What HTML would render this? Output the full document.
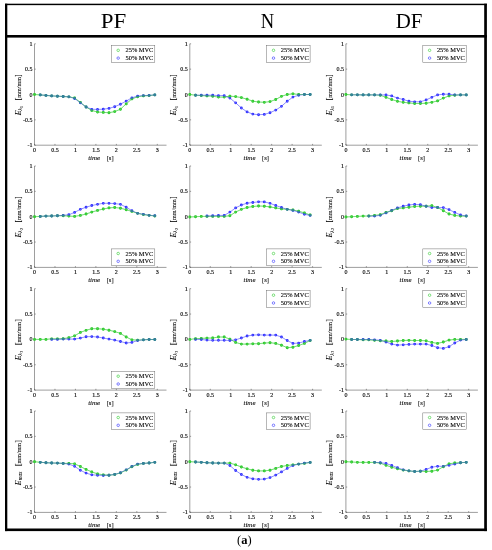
<!DOCTYPE html>
<html><head><meta charset="utf-8"><title>Figure (a)</title>
<style>
html,body{margin:0;padding:0;background:#fff}
svg{display:block}
text{font-family:"Liberation Serif","DejaVu Serif",serif;fill:#000}
.t{font-size:6px}
.l{font-size:6.5px}
.h{font-size:20px;fill:#000}
.ax{stroke:#505050;stroke-width:.56;fill:none}
.g{stroke:#33cc33;fill:none}
.b{stroke:#3333ff;fill:none}
.ln{stroke-width:.55}
.mk{stroke-width:1.05}
.top{opacity:.5}
.t,.l{stroke:#000;stroke-width:.14px}
.lg{font-size:6.8px;stroke-width:.12px}
.y{stroke-width:.04px}
.x{stroke-width:.08px}
</style></head><body>
<svg width="492" height="550" viewBox="0 0 492 550">
<rect width="492" height="550" fill="#fff"/>
<g fill="#000">
<rect x="5.1" y="3.7" width="481.8" height="1.45"/>
<rect x="5" y="3.7" width="2.3" height="527.4"/>
<rect x="484.2" y="3.7" width="2.7" height="527.4"/>
<rect x="5.1" y="528.5" width="481.8" height="2.6"/>
<rect x="5.1" y="35" width="481.8" height="2.6"/>
</g>
<text class="h" x="100.7" y="27.5" textLength="25.5" lengthAdjust="spacingAndGlyphs">PF</text>
<text class="h" x="260.8" y="27.5" textLength="13.4" lengthAdjust="spacingAndGlyphs">N</text>
<text class="h" x="395.8" y="27.5" textLength="26.7" lengthAdjust="spacingAndGlyphs">DF</text>
<g>
<path class="ax" d="M34.5 43.8V145.2H166.5M34.5 145.2v-1.3M54.97 145.2v-1.3M75.43 145.2v-1.3M95.89 145.2v-1.3M116.36 145.2v-1.3M136.82 145.2v-1.3M157.29 145.2v-1.3M34.5 145.2h1.3M34.5 119.85h1.3M34.5 94.5h1.3M34.5 69.15h1.3M34.5 43.8h1.3"/>
<text class="t" x="34.5" y="152.2" text-anchor="middle">0</text><text class="t" x="54.97" y="152.2" text-anchor="middle">0.5</text><text class="t" x="75.43" y="152.2" text-anchor="middle">1</text><text class="t" x="95.89" y="152.2" text-anchor="middle">1.5</text><text class="t" x="116.36" y="152.2" text-anchor="middle">2</text><text class="t" x="136.82" y="152.2" text-anchor="middle">2.5</text><text class="t" x="157.29" y="152.2" text-anchor="middle">3</text>
<text class="t" x="32.5" y="147.2" text-anchor="end">-1</text><text class="t" x="32.5" y="121.85" text-anchor="end">-0.5</text><text class="t" x="32.5" y="96.5" text-anchor="end">0</text><text class="t" x="32.5" y="71.15" text-anchor="end">0.5</text><text class="t" x="32.5" y="45.8" text-anchor="end">1</text>
<text class="l x" x="88.2" y="159.8"><tspan font-style="italic" textLength="12" lengthAdjust="spacingAndGlyphs">time</tspan><tspan x="106.7">[s]</tspan></text>
<g transform="translate(20.7 115.3) rotate(-90)"><text class="l y" style="font-size:7.8px;font-style:italic" x="0" y="0">E</text><text class="l y" style="font-size:5.5px;font-style:italic" x="4.7" y="1.4">λ</text><text class="l y" style="font-size:4px" x="7.4" y="2.3">1</text><text class="l x" style="font-size:8px" x="15.1" y="0.3">[</text><text class="l x" x="17.6" y="0" textLength="20.6" lengthAdjust="spacingAndGlyphs">mm/mm</text><text class="l x" style="font-size:8px" x="38.4" y="0.3">]</text></g>
<rect x="111.4" y="45.7" width="43.4" height="16.7" fill="#fff" stroke="#606060" stroke-width=".45"/>
<circle class="g" stroke-width=".62" cx="118.2" cy="50.3" r="1.25"/><circle class="b" stroke-width=".62" cx="118.2" cy="58.1" r="1.25"/>
<text class="l lg" x="125.5" y="52.3" textLength="27.9" lengthAdjust="spacingAndGlyphs">25% MVC</text><text class="l lg" x="125.5" y="60.1" textLength="27.9" lengthAdjust="spacingAndGlyphs">50% MVC</text>
<g class="g ser"><polyline class="ln" points="34.5,94.5 40.23,94.9 45.96,95.4 51.69,95.9 57.42,96.2 63.15,96.5 68.88,96.8 74.61,98 80.34,102.3 86.07,107 91.8,110.5 97.53,112 103.26,112.4 108.99,112.7 114.72,111.6 120.45,109.2 126.18,103.9 131.91,98.9 137.64,96.8 143.37,95.9 149.1,95.6 154.83,94.9"/><circle class="mk" cx="34.5" cy="94.5" r="0.9"/><circle class="mk" cx="40.23" cy="94.9" r="0.9"/><circle class="mk" cx="45.96" cy="95.4" r="0.9"/><circle class="mk" cx="51.69" cy="95.9" r="0.9"/><circle class="mk" cx="57.42" cy="96.2" r="0.9"/><circle class="mk" cx="63.15" cy="96.5" r="0.9"/><circle class="mk" cx="68.88" cy="96.8" r="0.9"/><circle class="mk" cx="74.61" cy="98" r="0.9"/><circle class="mk" cx="80.34" cy="102.3" r="0.9"/><circle class="mk" cx="86.07" cy="107" r="0.9"/><circle class="mk" cx="91.8" cy="110.5" r="0.9"/><circle class="mk" cx="97.53" cy="112" r="0.9"/><circle class="mk" cx="103.26" cy="112.4" r="0.9"/><circle class="mk" cx="108.99" cy="112.7" r="0.9"/><circle class="mk" cx="114.72" cy="111.6" r="0.9"/><circle class="mk" cx="120.45" cy="109.2" r="0.9"/><circle class="mk" cx="126.18" cy="103.9" r="0.9"/><circle class="mk" cx="131.91" cy="98.9" r="0.9"/><circle class="mk" cx="137.64" cy="96.8" r="0.9"/><circle class="mk" cx="143.37" cy="95.9" r="0.9"/><circle class="mk" cx="149.1" cy="95.6" r="0.9"/><circle class="mk" cx="154.83" cy="94.9" r="0.9"/></g>
<g class="b ser"><polyline class="ln" points="40.23,94.9 45.96,95.4 51.69,95.9 57.42,96.2 63.15,96.5 68.88,96.8 74.61,98.5 80.34,102.8 86.07,107 91.8,109.3 97.53,109.4 103.26,109.2 108.99,108.4 114.72,106.7 120.45,104.2 126.18,101.1 131.91,97.8 137.64,96.1 143.37,95.6 149.1,95.4 154.83,94.9"/><circle class="mk" cx="40.23" cy="94.9" r="0.9"/><circle class="mk" cx="45.96" cy="95.4" r="0.9"/><circle class="mk" cx="51.69" cy="95.9" r="0.9"/><circle class="mk" cx="57.42" cy="96.2" r="0.9"/><circle class="mk" cx="63.15" cy="96.5" r="0.9"/><circle class="mk" cx="68.88" cy="96.8" r="0.9"/><circle class="mk" cx="74.61" cy="98.5" r="0.9"/><circle class="mk" cx="80.34" cy="102.8" r="0.9"/><circle class="mk" cx="86.07" cy="107" r="0.9"/><circle class="mk" cx="91.8" cy="109.3" r="0.9"/><circle class="mk" cx="97.53" cy="109.4" r="0.9"/><circle class="mk" cx="103.26" cy="109.2" r="0.9"/><circle class="mk" cx="108.99" cy="108.4" r="0.9"/><circle class="mk" cx="114.72" cy="106.7" r="0.9"/><circle class="mk" cx="120.45" cy="104.2" r="0.9"/><circle class="mk" cx="126.18" cy="101.1" r="0.9"/><circle class="mk" cx="131.91" cy="97.8" r="0.9"/><circle class="mk" cx="137.64" cy="96.1" r="0.9"/><circle class="mk" cx="143.37" cy="95.6" r="0.9"/><circle class="mk" cx="149.1" cy="95.4" r="0.9"/><circle class="mk" cx="154.83" cy="94.9" r="0.9"/></g>
<g class="g ser top"><polyline class="ln" points="34.5,94.5 40.23,94.9 45.96,95.4 51.69,95.9 57.42,96.2 63.15,96.5 68.88,96.8 74.61,98 80.34,102.3 86.07,107 91.8,110.5 97.53,112 103.26,112.4 108.99,112.7 114.72,111.6 120.45,109.2 126.18,103.9 131.91,98.9 137.64,96.8 143.37,95.9 149.1,95.6 154.83,94.9"/><circle class="mk" cx="34.5" cy="94.5" r="0.9"/><circle class="mk" cx="40.23" cy="94.9" r="0.9"/><circle class="mk" cx="45.96" cy="95.4" r="0.9"/><circle class="mk" cx="51.69" cy="95.9" r="0.9"/><circle class="mk" cx="57.42" cy="96.2" r="0.9"/><circle class="mk" cx="63.15" cy="96.5" r="0.9"/><circle class="mk" cx="68.88" cy="96.8" r="0.9"/><circle class="mk" cx="74.61" cy="98" r="0.9"/><circle class="mk" cx="80.34" cy="102.3" r="0.9"/><circle class="mk" cx="86.07" cy="107" r="0.9"/><circle class="mk" cx="91.8" cy="110.5" r="0.9"/><circle class="mk" cx="97.53" cy="112" r="0.9"/><circle class="mk" cx="103.26" cy="112.4" r="0.9"/><circle class="mk" cx="108.99" cy="112.7" r="0.9"/><circle class="mk" cx="114.72" cy="111.6" r="0.9"/><circle class="mk" cx="120.45" cy="109.2" r="0.9"/><circle class="mk" cx="126.18" cy="103.9" r="0.9"/><circle class="mk" cx="131.91" cy="98.9" r="0.9"/><circle class="mk" cx="137.64" cy="96.8" r="0.9"/><circle class="mk" cx="143.37" cy="95.9" r="0.9"/><circle class="mk" cx="149.1" cy="95.6" r="0.9"/><circle class="mk" cx="154.83" cy="94.9" r="0.9"/></g>
</g>
<g>
<path class="ax" d="M189.8 43.8V145.2H321.8M189.8 145.2v-1.3M210.27 145.2v-1.3M230.73 145.2v-1.3M251.19 145.2v-1.3M271.66 145.2v-1.3M292.12 145.2v-1.3M312.59 145.2v-1.3M189.8 145.2h1.3M189.8 119.85h1.3M189.8 94.5h1.3M189.8 69.15h1.3M189.8 43.8h1.3"/>
<text class="t" x="189.8" y="152.2" text-anchor="middle">0</text><text class="t" x="210.27" y="152.2" text-anchor="middle">0.5</text><text class="t" x="230.73" y="152.2" text-anchor="middle">1</text><text class="t" x="251.19" y="152.2" text-anchor="middle">1.5</text><text class="t" x="271.66" y="152.2" text-anchor="middle">2</text><text class="t" x="292.12" y="152.2" text-anchor="middle">2.5</text><text class="t" x="312.59" y="152.2" text-anchor="middle">3</text>
<text class="t" x="187.8" y="147.2" text-anchor="end">-1</text><text class="t" x="187.8" y="121.85" text-anchor="end">-0.5</text><text class="t" x="187.8" y="96.5" text-anchor="end">0</text><text class="t" x="187.8" y="71.15" text-anchor="end">0.5</text><text class="t" x="187.8" y="45.8" text-anchor="end">1</text>
<text class="l x" x="243.5" y="159.8"><tspan font-style="italic" textLength="12" lengthAdjust="spacingAndGlyphs">time</tspan><tspan x="262">[s]</tspan></text>
<g transform="translate(176 115.3) rotate(-90)"><text class="l y" style="font-size:7.8px;font-style:italic" x="0" y="0">E</text><text class="l y" style="font-size:5.5px;font-style:italic" x="4.7" y="1.4">λ</text><text class="l y" style="font-size:4px" x="7.4" y="2.3">1</text><text class="l x" style="font-size:8px" x="15.1" y="0.3">[</text><text class="l x" x="17.6" y="0" textLength="20.6" lengthAdjust="spacingAndGlyphs">mm/mm</text><text class="l x" style="font-size:8px" x="38.4" y="0.3">]</text></g>
<rect x="266.7" y="45.7" width="43.4" height="16.7" fill="#fff" stroke="#606060" stroke-width=".45"/>
<circle class="g" stroke-width=".62" cx="273.5" cy="50.3" r="1.25"/><circle class="b" stroke-width=".62" cx="273.5" cy="58.1" r="1.25"/>
<text class="l lg" x="280.8" y="52.3" textLength="27.9" lengthAdjust="spacingAndGlyphs">25% MVC</text><text class="l lg" x="280.8" y="60.1" textLength="27.9" lengthAdjust="spacingAndGlyphs">50% MVC</text>
<g class="g ser"><polyline class="ln" points="189.8,94.5 195.53,95.2 201.26,95.6 206.99,95.9 212.72,96.2 218.45,97.1 224.18,97.1 229.91,96.2 235.64,96.6 241.37,97.6 247.1,99.2 252.83,101.2 258.56,102 264.29,102.3 270.02,101.6 275.75,99.5 281.48,96.3 287.21,94.5 292.94,93.8 298.67,94.5 304.4,94.5 310.13,94.5"/><circle class="mk" cx="189.8" cy="94.5" r="0.9"/><circle class="mk" cx="195.53" cy="95.2" r="0.9"/><circle class="mk" cx="201.26" cy="95.6" r="0.9"/><circle class="mk" cx="206.99" cy="95.9" r="0.9"/><circle class="mk" cx="212.72" cy="96.2" r="0.9"/><circle class="mk" cx="218.45" cy="97.1" r="0.9"/><circle class="mk" cx="224.18" cy="97.1" r="0.9"/><circle class="mk" cx="229.91" cy="96.2" r="0.9"/><circle class="mk" cx="235.64" cy="96.6" r="0.9"/><circle class="mk" cx="241.37" cy="97.6" r="0.9"/><circle class="mk" cx="247.1" cy="99.2" r="0.9"/><circle class="mk" cx="252.83" cy="101.2" r="0.9"/><circle class="mk" cx="258.56" cy="102" r="0.9"/><circle class="mk" cx="264.29" cy="102.3" r="0.9"/><circle class="mk" cx="270.02" cy="101.6" r="0.9"/><circle class="mk" cx="275.75" cy="99.5" r="0.9"/><circle class="mk" cx="281.48" cy="96.3" r="0.9"/><circle class="mk" cx="287.21" cy="94.5" r="0.9"/><circle class="mk" cx="292.94" cy="93.8" r="0.9"/><circle class="mk" cx="298.67" cy="94.5" r="0.9"/><circle class="mk" cx="304.4" cy="94.5" r="0.9"/><circle class="mk" cx="310.13" cy="94.5" r="0.9"/></g>
<g class="b ser"><polyline class="ln" points="195.53,95.2 201.26,95.2 206.99,95.2 212.72,95.2 218.45,95.6 224.18,95.6 229.91,98.1 235.64,102.8 241.37,108 247.1,111.9 252.83,114.1 258.56,114.7 264.29,114.4 270.02,112.7 275.75,110.1 281.48,106.3 287.21,101.2 292.94,97.1 298.67,95.2 304.4,94.5 310.13,94.5"/><circle class="mk" cx="195.53" cy="95.2" r="0.9"/><circle class="mk" cx="201.26" cy="95.2" r="0.9"/><circle class="mk" cx="206.99" cy="95.2" r="0.9"/><circle class="mk" cx="212.72" cy="95.2" r="0.9"/><circle class="mk" cx="218.45" cy="95.6" r="0.9"/><circle class="mk" cx="224.18" cy="95.6" r="0.9"/><circle class="mk" cx="229.91" cy="98.1" r="0.9"/><circle class="mk" cx="235.64" cy="102.8" r="0.9"/><circle class="mk" cx="241.37" cy="108" r="0.9"/><circle class="mk" cx="247.1" cy="111.9" r="0.9"/><circle class="mk" cx="252.83" cy="114.1" r="0.9"/><circle class="mk" cx="258.56" cy="114.7" r="0.9"/><circle class="mk" cx="264.29" cy="114.4" r="0.9"/><circle class="mk" cx="270.02" cy="112.7" r="0.9"/><circle class="mk" cx="275.75" cy="110.1" r="0.9"/><circle class="mk" cx="281.48" cy="106.3" r="0.9"/><circle class="mk" cx="287.21" cy="101.2" r="0.9"/><circle class="mk" cx="292.94" cy="97.1" r="0.9"/><circle class="mk" cx="298.67" cy="95.2" r="0.9"/><circle class="mk" cx="304.4" cy="94.5" r="0.9"/><circle class="mk" cx="310.13" cy="94.5" r="0.9"/></g>
<g class="g ser top"><polyline class="ln" points="189.8,94.5 195.53,95.2 201.26,95.6 206.99,95.9 212.72,96.2 218.45,97.1 224.18,97.1 229.91,96.2 235.64,96.6 241.37,97.6 247.1,99.2 252.83,101.2 258.56,102 264.29,102.3 270.02,101.6 275.75,99.5 281.48,96.3 287.21,94.5 292.94,93.8 298.67,94.5 304.4,94.5 310.13,94.5"/><circle class="mk" cx="189.8" cy="94.5" r="0.9"/><circle class="mk" cx="195.53" cy="95.2" r="0.9"/><circle class="mk" cx="201.26" cy="95.6" r="0.9"/><circle class="mk" cx="206.99" cy="95.9" r="0.9"/><circle class="mk" cx="212.72" cy="96.2" r="0.9"/><circle class="mk" cx="218.45" cy="97.1" r="0.9"/><circle class="mk" cx="224.18" cy="97.1" r="0.9"/><circle class="mk" cx="229.91" cy="96.2" r="0.9"/><circle class="mk" cx="235.64" cy="96.6" r="0.9"/><circle class="mk" cx="241.37" cy="97.6" r="0.9"/><circle class="mk" cx="247.1" cy="99.2" r="0.9"/><circle class="mk" cx="252.83" cy="101.2" r="0.9"/><circle class="mk" cx="258.56" cy="102" r="0.9"/><circle class="mk" cx="264.29" cy="102.3" r="0.9"/><circle class="mk" cx="270.02" cy="101.6" r="0.9"/><circle class="mk" cx="275.75" cy="99.5" r="0.9"/><circle class="mk" cx="281.48" cy="96.3" r="0.9"/><circle class="mk" cx="287.21" cy="94.5" r="0.9"/><circle class="mk" cx="292.94" cy="93.8" r="0.9"/><circle class="mk" cx="298.67" cy="94.5" r="0.9"/><circle class="mk" cx="304.4" cy="94.5" r="0.9"/><circle class="mk" cx="310.13" cy="94.5" r="0.9"/></g>
</g>
<g>
<path class="ax" d="M345.9 43.8V145.2H477.9M345.9 145.2v-1.3M366.36 145.2v-1.3M386.83 145.2v-1.3M407.29 145.2v-1.3M427.76 145.2v-1.3M448.22 145.2v-1.3M468.69 145.2v-1.3M345.9 145.2h1.3M345.9 119.85h1.3M345.9 94.5h1.3M345.9 69.15h1.3M345.9 43.8h1.3"/>
<text class="t" x="345.9" y="152.2" text-anchor="middle">0</text><text class="t" x="366.36" y="152.2" text-anchor="middle">0.5</text><text class="t" x="386.83" y="152.2" text-anchor="middle">1</text><text class="t" x="407.29" y="152.2" text-anchor="middle">1.5</text><text class="t" x="427.76" y="152.2" text-anchor="middle">2</text><text class="t" x="448.22" y="152.2" text-anchor="middle">2.5</text><text class="t" x="468.69" y="152.2" text-anchor="middle">3</text>
<text class="t" x="343.9" y="147.2" text-anchor="end">-1</text><text class="t" x="343.9" y="121.85" text-anchor="end">-0.5</text><text class="t" x="343.9" y="96.5" text-anchor="end">0</text><text class="t" x="343.9" y="71.15" text-anchor="end">0.5</text><text class="t" x="343.9" y="45.8" text-anchor="end">1</text>
<text class="l x" x="399.6" y="159.8"><tspan font-style="italic" textLength="12" lengthAdjust="spacingAndGlyphs">time</tspan><tspan x="418.1">[s]</tspan></text>
<g transform="translate(332.1 115.3) rotate(-90)"><text class="l y" style="font-size:7.8px;font-style:italic" x="0" y="0">E</text><text class="l y" style="font-size:5.5px;font-style:italic" x="4.7" y="1.4">λ</text><text class="l y" style="font-size:4px" x="7.4" y="2.3">1</text><text class="l x" style="font-size:8px" x="15.1" y="0.3">[</text><text class="l x" x="17.6" y="0" textLength="20.6" lengthAdjust="spacingAndGlyphs">mm/mm</text><text class="l x" style="font-size:8px" x="38.4" y="0.3">]</text></g>
<rect x="422.8" y="45.7" width="43.4" height="16.7" fill="#fff" stroke="#606060" stroke-width=".45"/>
<circle class="g" stroke-width=".62" cx="429.6" cy="50.3" r="1.25"/><circle class="b" stroke-width=".62" cx="429.6" cy="58.1" r="1.25"/>
<text class="l lg" x="436.9" y="52.3" textLength="27.9" lengthAdjust="spacingAndGlyphs">25% MVC</text><text class="l lg" x="436.9" y="60.1" textLength="27.9" lengthAdjust="spacingAndGlyphs">50% MVC</text>
<g class="g ser"><polyline class="ln" points="345.9,94.5 351.63,94.8 357.36,94.8 363.09,94.9 368.82,94.9 374.55,94.9 380.28,95.2 386.01,97.3 391.74,99.5 397.47,101.3 403.2,102.3 408.93,102.9 414.66,103.5 420.39,103.5 426.12,103.2 431.85,102.3 437.58,100.9 443.31,98.1 449.04,95.9 454.77,95.2 460.5,94.9 466.23,94.9"/><circle class="mk" cx="345.9" cy="94.5" r="0.9"/><circle class="mk" cx="351.63" cy="94.8" r="0.9"/><circle class="mk" cx="357.36" cy="94.8" r="0.9"/><circle class="mk" cx="363.09" cy="94.9" r="0.9"/><circle class="mk" cx="368.82" cy="94.9" r="0.9"/><circle class="mk" cx="374.55" cy="94.9" r="0.9"/><circle class="mk" cx="380.28" cy="95.2" r="0.9"/><circle class="mk" cx="386.01" cy="97.3" r="0.9"/><circle class="mk" cx="391.74" cy="99.5" r="0.9"/><circle class="mk" cx="397.47" cy="101.3" r="0.9"/><circle class="mk" cx="403.2" cy="102.3" r="0.9"/><circle class="mk" cx="408.93" cy="102.9" r="0.9"/><circle class="mk" cx="414.66" cy="103.5" r="0.9"/><circle class="mk" cx="420.39" cy="103.5" r="0.9"/><circle class="mk" cx="426.12" cy="103.2" r="0.9"/><circle class="mk" cx="431.85" cy="102.3" r="0.9"/><circle class="mk" cx="437.58" cy="100.9" r="0.9"/><circle class="mk" cx="443.31" cy="98.1" r="0.9"/><circle class="mk" cx="449.04" cy="95.9" r="0.9"/><circle class="mk" cx="454.77" cy="95.2" r="0.9"/><circle class="mk" cx="460.5" cy="94.9" r="0.9"/><circle class="mk" cx="466.23" cy="94.9" r="0.9"/></g>
<g class="b ser"><polyline class="ln" points="351.63,94.8 357.36,94.8 363.09,94.9 368.82,94.9 374.55,94.9 380.28,94.9 386.01,94.9 391.74,95.9 397.47,98.1 403.2,99.5 408.93,101.2 414.66,101.8 420.39,101.8 426.12,99.9 431.85,97.3 437.58,94.9 443.31,94.2 449.04,94.2 454.77,94.9 460.5,94.9 466.23,94.9"/><circle class="mk" cx="351.63" cy="94.8" r="0.9"/><circle class="mk" cx="357.36" cy="94.8" r="0.9"/><circle class="mk" cx="363.09" cy="94.9" r="0.9"/><circle class="mk" cx="368.82" cy="94.9" r="0.9"/><circle class="mk" cx="374.55" cy="94.9" r="0.9"/><circle class="mk" cx="380.28" cy="94.9" r="0.9"/><circle class="mk" cx="386.01" cy="94.9" r="0.9"/><circle class="mk" cx="391.74" cy="95.9" r="0.9"/><circle class="mk" cx="397.47" cy="98.1" r="0.9"/><circle class="mk" cx="403.2" cy="99.5" r="0.9"/><circle class="mk" cx="408.93" cy="101.2" r="0.9"/><circle class="mk" cx="414.66" cy="101.8" r="0.9"/><circle class="mk" cx="420.39" cy="101.8" r="0.9"/><circle class="mk" cx="426.12" cy="99.9" r="0.9"/><circle class="mk" cx="431.85" cy="97.3" r="0.9"/><circle class="mk" cx="437.58" cy="94.9" r="0.9"/><circle class="mk" cx="443.31" cy="94.2" r="0.9"/><circle class="mk" cx="449.04" cy="94.2" r="0.9"/><circle class="mk" cx="454.77" cy="94.9" r="0.9"/><circle class="mk" cx="460.5" cy="94.9" r="0.9"/><circle class="mk" cx="466.23" cy="94.9" r="0.9"/></g>
<g class="g ser top"><polyline class="ln" points="345.9,94.5 351.63,94.8 357.36,94.8 363.09,94.9 368.82,94.9 374.55,94.9 380.28,95.2 386.01,97.3 391.74,99.5 397.47,101.3 403.2,102.3 408.93,102.9 414.66,103.5 420.39,103.5 426.12,103.2 431.85,102.3 437.58,100.9 443.31,98.1 449.04,95.9 454.77,95.2 460.5,94.9 466.23,94.9"/><circle class="mk" cx="345.9" cy="94.5" r="0.9"/><circle class="mk" cx="351.63" cy="94.8" r="0.9"/><circle class="mk" cx="357.36" cy="94.8" r="0.9"/><circle class="mk" cx="363.09" cy="94.9" r="0.9"/><circle class="mk" cx="368.82" cy="94.9" r="0.9"/><circle class="mk" cx="374.55" cy="94.9" r="0.9"/><circle class="mk" cx="380.28" cy="95.2" r="0.9"/><circle class="mk" cx="386.01" cy="97.3" r="0.9"/><circle class="mk" cx="391.74" cy="99.5" r="0.9"/><circle class="mk" cx="397.47" cy="101.3" r="0.9"/><circle class="mk" cx="403.2" cy="102.3" r="0.9"/><circle class="mk" cx="408.93" cy="102.9" r="0.9"/><circle class="mk" cx="414.66" cy="103.5" r="0.9"/><circle class="mk" cx="420.39" cy="103.5" r="0.9"/><circle class="mk" cx="426.12" cy="103.2" r="0.9"/><circle class="mk" cx="431.85" cy="102.3" r="0.9"/><circle class="mk" cx="437.58" cy="100.9" r="0.9"/><circle class="mk" cx="443.31" cy="98.1" r="0.9"/><circle class="mk" cx="449.04" cy="95.9" r="0.9"/><circle class="mk" cx="454.77" cy="95.2" r="0.9"/><circle class="mk" cx="460.5" cy="94.9" r="0.9"/><circle class="mk" cx="466.23" cy="94.9" r="0.9"/></g>
</g>
<g>
<path class="ax" d="M34.5 166V267.4H166.5M34.5 267.4v-1.3M54.97 267.4v-1.3M75.43 267.4v-1.3M95.89 267.4v-1.3M116.36 267.4v-1.3M136.82 267.4v-1.3M157.29 267.4v-1.3M34.5 267.4h1.3M34.5 242.05h1.3M34.5 216.7h1.3M34.5 191.35h1.3M34.5 166h1.3"/>
<text class="t" x="34.5" y="274.4" text-anchor="middle">0</text><text class="t" x="54.97" y="274.4" text-anchor="middle">0.5</text><text class="t" x="75.43" y="274.4" text-anchor="middle">1</text><text class="t" x="95.89" y="274.4" text-anchor="middle">1.5</text><text class="t" x="116.36" y="274.4" text-anchor="middle">2</text><text class="t" x="136.82" y="274.4" text-anchor="middle">2.5</text><text class="t" x="157.29" y="274.4" text-anchor="middle">3</text>
<text class="t" x="32.5" y="269.4" text-anchor="end">-1</text><text class="t" x="32.5" y="244.05" text-anchor="end">-0.5</text><text class="t" x="32.5" y="218.7" text-anchor="end">0</text><text class="t" x="32.5" y="193.35" text-anchor="end">0.5</text><text class="t" x="32.5" y="168" text-anchor="end">1</text>
<text class="l x" x="88.2" y="282"><tspan font-style="italic" textLength="12" lengthAdjust="spacingAndGlyphs">time</tspan><tspan x="106.7">[s]</tspan></text>
<g transform="translate(20.7 237.5) rotate(-90)"><text class="l y" style="font-size:7.8px;font-style:italic" x="0" y="0">E</text><text class="l y" style="font-size:5.5px;font-style:italic" x="4.7" y="1.4">λ</text><text class="l y" style="font-size:4px" x="7.4" y="2.3">2</text><text class="l x" style="font-size:8px" x="15.1" y="0.3">[</text><text class="l x" x="17.6" y="0" textLength="20.6" lengthAdjust="spacingAndGlyphs">mm/mm</text><text class="l x" style="font-size:8px" x="38.4" y="0.3">]</text></g>
<rect x="111.4" y="248.9" width="43.4" height="16.7" fill="#fff" stroke="#606060" stroke-width=".45"/>
<circle class="g" stroke-width=".62" cx="118.2" cy="253.5" r="1.25"/><circle class="b" stroke-width=".62" cx="118.2" cy="261.3" r="1.25"/>
<text class="l lg" x="125.5" y="255.5" textLength="27.9" lengthAdjust="spacingAndGlyphs">25% MVC</text><text class="l lg" x="125.5" y="263.3" textLength="27.9" lengthAdjust="spacingAndGlyphs">50% MVC</text>
<g class="g ser"><polyline class="ln" points="34.5,216.7 40.23,216.4 45.96,216.1 51.69,216 57.42,215.7 63.15,215.7 68.88,216.1 74.61,216.4 80.34,215.4 86.07,214 91.8,212.1 97.53,210.4 103.26,209 108.99,207.9 114.72,207.5 120.45,208.2 126.18,209.7 131.91,211.4 137.64,213.3 143.37,214.6 149.1,215.3 154.83,216"/><circle class="mk" cx="34.5" cy="216.7" r="0.9"/><circle class="mk" cx="40.23" cy="216.4" r="0.9"/><circle class="mk" cx="45.96" cy="216.1" r="0.9"/><circle class="mk" cx="51.69" cy="216" r="0.9"/><circle class="mk" cx="57.42" cy="215.7" r="0.9"/><circle class="mk" cx="63.15" cy="215.7" r="0.9"/><circle class="mk" cx="68.88" cy="216.1" r="0.9"/><circle class="mk" cx="74.61" cy="216.4" r="0.9"/><circle class="mk" cx="80.34" cy="215.4" r="0.9"/><circle class="mk" cx="86.07" cy="214" r="0.9"/><circle class="mk" cx="91.8" cy="212.1" r="0.9"/><circle class="mk" cx="97.53" cy="210.4" r="0.9"/><circle class="mk" cx="103.26" cy="209" r="0.9"/><circle class="mk" cx="108.99" cy="207.9" r="0.9"/><circle class="mk" cx="114.72" cy="207.5" r="0.9"/><circle class="mk" cx="120.45" cy="208.2" r="0.9"/><circle class="mk" cx="126.18" cy="209.7" r="0.9"/><circle class="mk" cx="131.91" cy="211.4" r="0.9"/><circle class="mk" cx="137.64" cy="213.3" r="0.9"/><circle class="mk" cx="143.37" cy="214.6" r="0.9"/><circle class="mk" cx="149.1" cy="215.3" r="0.9"/><circle class="mk" cx="154.83" cy="216" r="0.9"/></g>
<g class="b ser"><polyline class="ln" points="40.23,216.4 45.96,216.1 51.69,216 57.42,215.7 63.15,215.4 68.88,214.7 74.61,212.4 80.34,209.3 86.07,207.2 91.8,205.5 97.53,204.3 103.26,203.3 108.99,203.3 114.72,203.6 120.45,204.3 126.18,207.2 131.91,210.7 137.64,213.3 143.37,214.3 149.1,215.3 154.83,215.7"/><circle class="mk" cx="40.23" cy="216.4" r="0.9"/><circle class="mk" cx="45.96" cy="216.1" r="0.9"/><circle class="mk" cx="51.69" cy="216" r="0.9"/><circle class="mk" cx="57.42" cy="215.7" r="0.9"/><circle class="mk" cx="63.15" cy="215.4" r="0.9"/><circle class="mk" cx="68.88" cy="214.7" r="0.9"/><circle class="mk" cx="74.61" cy="212.4" r="0.9"/><circle class="mk" cx="80.34" cy="209.3" r="0.9"/><circle class="mk" cx="86.07" cy="207.2" r="0.9"/><circle class="mk" cx="91.8" cy="205.5" r="0.9"/><circle class="mk" cx="97.53" cy="204.3" r="0.9"/><circle class="mk" cx="103.26" cy="203.3" r="0.9"/><circle class="mk" cx="108.99" cy="203.3" r="0.9"/><circle class="mk" cx="114.72" cy="203.6" r="0.9"/><circle class="mk" cx="120.45" cy="204.3" r="0.9"/><circle class="mk" cx="126.18" cy="207.2" r="0.9"/><circle class="mk" cx="131.91" cy="210.7" r="0.9"/><circle class="mk" cx="137.64" cy="213.3" r="0.9"/><circle class="mk" cx="143.37" cy="214.3" r="0.9"/><circle class="mk" cx="149.1" cy="215.3" r="0.9"/><circle class="mk" cx="154.83" cy="215.7" r="0.9"/></g>
<g class="g ser top"><polyline class="ln" points="34.5,216.7 40.23,216.4 45.96,216.1 51.69,216 57.42,215.7 63.15,215.7 68.88,216.1 74.61,216.4 80.34,215.4 86.07,214 91.8,212.1 97.53,210.4 103.26,209 108.99,207.9 114.72,207.5 120.45,208.2 126.18,209.7 131.91,211.4 137.64,213.3 143.37,214.6 149.1,215.3 154.83,216"/><circle class="mk" cx="34.5" cy="216.7" r="0.9"/><circle class="mk" cx="40.23" cy="216.4" r="0.9"/><circle class="mk" cx="45.96" cy="216.1" r="0.9"/><circle class="mk" cx="51.69" cy="216" r="0.9"/><circle class="mk" cx="57.42" cy="215.7" r="0.9"/><circle class="mk" cx="63.15" cy="215.7" r="0.9"/><circle class="mk" cx="68.88" cy="216.1" r="0.9"/><circle class="mk" cx="74.61" cy="216.4" r="0.9"/><circle class="mk" cx="80.34" cy="215.4" r="0.9"/><circle class="mk" cx="86.07" cy="214" r="0.9"/><circle class="mk" cx="91.8" cy="212.1" r="0.9"/><circle class="mk" cx="97.53" cy="210.4" r="0.9"/><circle class="mk" cx="103.26" cy="209" r="0.9"/><circle class="mk" cx="108.99" cy="207.9" r="0.9"/><circle class="mk" cx="114.72" cy="207.5" r="0.9"/><circle class="mk" cx="120.45" cy="208.2" r="0.9"/><circle class="mk" cx="126.18" cy="209.7" r="0.9"/><circle class="mk" cx="131.91" cy="211.4" r="0.9"/><circle class="mk" cx="137.64" cy="213.3" r="0.9"/><circle class="mk" cx="143.37" cy="214.6" r="0.9"/><circle class="mk" cx="149.1" cy="215.3" r="0.9"/><circle class="mk" cx="154.83" cy="216" r="0.9"/></g>
</g>
<g>
<path class="ax" d="M189.8 166V267.4H321.8M189.8 267.4v-1.3M210.27 267.4v-1.3M230.73 267.4v-1.3M251.19 267.4v-1.3M271.66 267.4v-1.3M292.12 267.4v-1.3M312.59 267.4v-1.3M189.8 267.4h1.3M189.8 242.05h1.3M189.8 216.7h1.3M189.8 191.35h1.3M189.8 166h1.3"/>
<text class="t" x="189.8" y="274.4" text-anchor="middle">0</text><text class="t" x="210.27" y="274.4" text-anchor="middle">0.5</text><text class="t" x="230.73" y="274.4" text-anchor="middle">1</text><text class="t" x="251.19" y="274.4" text-anchor="middle">1.5</text><text class="t" x="271.66" y="274.4" text-anchor="middle">2</text><text class="t" x="292.12" y="274.4" text-anchor="middle">2.5</text><text class="t" x="312.59" y="274.4" text-anchor="middle">3</text>
<text class="t" x="187.8" y="269.4" text-anchor="end">-1</text><text class="t" x="187.8" y="244.05" text-anchor="end">-0.5</text><text class="t" x="187.8" y="218.7" text-anchor="end">0</text><text class="t" x="187.8" y="193.35" text-anchor="end">0.5</text><text class="t" x="187.8" y="168" text-anchor="end">1</text>
<text class="l x" x="243.5" y="282"><tspan font-style="italic" textLength="12" lengthAdjust="spacingAndGlyphs">time</tspan><tspan x="262">[s]</tspan></text>
<g transform="translate(176 237.5) rotate(-90)"><text class="l y" style="font-size:7.8px;font-style:italic" x="0" y="0">E</text><text class="l y" style="font-size:5.5px;font-style:italic" x="4.7" y="1.4">λ</text><text class="l y" style="font-size:4px" x="7.4" y="2.3">2</text><text class="l x" style="font-size:8px" x="15.1" y="0.3">[</text><text class="l x" x="17.6" y="0" textLength="20.6" lengthAdjust="spacingAndGlyphs">mm/mm</text><text class="l x" style="font-size:8px" x="38.4" y="0.3">]</text></g>
<rect x="266.7" y="248.9" width="43.4" height="16.7" fill="#fff" stroke="#606060" stroke-width=".45"/>
<circle class="g" stroke-width=".62" cx="273.5" cy="253.5" r="1.25"/><circle class="b" stroke-width=".62" cx="273.5" cy="261.3" r="1.25"/>
<text class="l lg" x="280.8" y="255.5" textLength="27.9" lengthAdjust="spacingAndGlyphs">25% MVC</text><text class="l lg" x="280.8" y="263.3" textLength="27.9" lengthAdjust="spacingAndGlyphs">50% MVC</text>
<g class="g ser"><polyline class="ln" points="189.8,217 195.53,216.7 201.26,216.4 206.99,216.4 212.72,216.4 218.45,216.4 224.18,216.4 229.91,215.7 235.64,212.1 241.37,209.3 247.1,207.5 252.83,206.5 258.56,206 264.29,206.2 270.02,206.9 275.75,207.9 281.48,208.9 287.21,209.3 292.94,210 298.67,211.2 304.4,212.9 310.13,215"/><circle class="mk" cx="189.8" cy="217" r="0.9"/><circle class="mk" cx="195.53" cy="216.7" r="0.9"/><circle class="mk" cx="201.26" cy="216.4" r="0.9"/><circle class="mk" cx="206.99" cy="216.4" r="0.9"/><circle class="mk" cx="212.72" cy="216.4" r="0.9"/><circle class="mk" cx="218.45" cy="216.4" r="0.9"/><circle class="mk" cx="224.18" cy="216.4" r="0.9"/><circle class="mk" cx="229.91" cy="215.7" r="0.9"/><circle class="mk" cx="235.64" cy="212.1" r="0.9"/><circle class="mk" cx="241.37" cy="209.3" r="0.9"/><circle class="mk" cx="247.1" cy="207.5" r="0.9"/><circle class="mk" cx="252.83" cy="206.5" r="0.9"/><circle class="mk" cx="258.56" cy="206" r="0.9"/><circle class="mk" cx="264.29" cy="206.2" r="0.9"/><circle class="mk" cx="270.02" cy="206.9" r="0.9"/><circle class="mk" cx="275.75" cy="207.9" r="0.9"/><circle class="mk" cx="281.48" cy="208.9" r="0.9"/><circle class="mk" cx="287.21" cy="209.3" r="0.9"/><circle class="mk" cx="292.94" cy="210" r="0.9"/><circle class="mk" cx="298.67" cy="211.2" r="0.9"/><circle class="mk" cx="304.4" cy="212.9" r="0.9"/><circle class="mk" cx="310.13" cy="215" r="0.9"/></g>
<g class="b ser"><polyline class="ln" points="206.99,216 212.72,215.7 218.45,215.4 224.18,215.4 229.91,212.1 235.64,207.9 241.37,205 247.1,203.2 252.83,202.5 258.56,201.8 264.29,201.9 270.02,203.3 275.75,205.5 281.48,207.5 287.21,209.3 292.94,210.4 298.67,212.1 304.4,214.3 310.13,215.4"/><circle class="mk" cx="206.99" cy="216" r="0.9"/><circle class="mk" cx="212.72" cy="215.7" r="0.9"/><circle class="mk" cx="218.45" cy="215.4" r="0.9"/><circle class="mk" cx="224.18" cy="215.4" r="0.9"/><circle class="mk" cx="229.91" cy="212.1" r="0.9"/><circle class="mk" cx="235.64" cy="207.9" r="0.9"/><circle class="mk" cx="241.37" cy="205" r="0.9"/><circle class="mk" cx="247.1" cy="203.2" r="0.9"/><circle class="mk" cx="252.83" cy="202.5" r="0.9"/><circle class="mk" cx="258.56" cy="201.8" r="0.9"/><circle class="mk" cx="264.29" cy="201.9" r="0.9"/><circle class="mk" cx="270.02" cy="203.3" r="0.9"/><circle class="mk" cx="275.75" cy="205.5" r="0.9"/><circle class="mk" cx="281.48" cy="207.5" r="0.9"/><circle class="mk" cx="287.21" cy="209.3" r="0.9"/><circle class="mk" cx="292.94" cy="210.4" r="0.9"/><circle class="mk" cx="298.67" cy="212.1" r="0.9"/><circle class="mk" cx="304.4" cy="214.3" r="0.9"/><circle class="mk" cx="310.13" cy="215.4" r="0.9"/></g>
<g class="g ser top"><polyline class="ln" points="189.8,217 195.53,216.7 201.26,216.4 206.99,216.4 212.72,216.4 218.45,216.4 224.18,216.4 229.91,215.7 235.64,212.1 241.37,209.3 247.1,207.5 252.83,206.5 258.56,206 264.29,206.2 270.02,206.9 275.75,207.9 281.48,208.9 287.21,209.3 292.94,210 298.67,211.2 304.4,212.9 310.13,215"/><circle class="mk" cx="189.8" cy="217" r="0.9"/><circle class="mk" cx="195.53" cy="216.7" r="0.9"/><circle class="mk" cx="201.26" cy="216.4" r="0.9"/><circle class="mk" cx="206.99" cy="216.4" r="0.9"/><circle class="mk" cx="212.72" cy="216.4" r="0.9"/><circle class="mk" cx="218.45" cy="216.4" r="0.9"/><circle class="mk" cx="224.18" cy="216.4" r="0.9"/><circle class="mk" cx="229.91" cy="215.7" r="0.9"/><circle class="mk" cx="235.64" cy="212.1" r="0.9"/><circle class="mk" cx="241.37" cy="209.3" r="0.9"/><circle class="mk" cx="247.1" cy="207.5" r="0.9"/><circle class="mk" cx="252.83" cy="206.5" r="0.9"/><circle class="mk" cx="258.56" cy="206" r="0.9"/><circle class="mk" cx="264.29" cy="206.2" r="0.9"/><circle class="mk" cx="270.02" cy="206.9" r="0.9"/><circle class="mk" cx="275.75" cy="207.9" r="0.9"/><circle class="mk" cx="281.48" cy="208.9" r="0.9"/><circle class="mk" cx="287.21" cy="209.3" r="0.9"/><circle class="mk" cx="292.94" cy="210" r="0.9"/><circle class="mk" cx="298.67" cy="211.2" r="0.9"/><circle class="mk" cx="304.4" cy="212.9" r="0.9"/><circle class="mk" cx="310.13" cy="215" r="0.9"/></g>
</g>
<g>
<path class="ax" d="M345.9 166V267.4H477.9M345.9 267.4v-1.3M366.36 267.4v-1.3M386.83 267.4v-1.3M407.29 267.4v-1.3M427.76 267.4v-1.3M448.22 267.4v-1.3M468.69 267.4v-1.3M345.9 267.4h1.3M345.9 242.05h1.3M345.9 216.7h1.3M345.9 191.35h1.3M345.9 166h1.3"/>
<text class="t" x="345.9" y="274.4" text-anchor="middle">0</text><text class="t" x="366.36" y="274.4" text-anchor="middle">0.5</text><text class="t" x="386.83" y="274.4" text-anchor="middle">1</text><text class="t" x="407.29" y="274.4" text-anchor="middle">1.5</text><text class="t" x="427.76" y="274.4" text-anchor="middle">2</text><text class="t" x="448.22" y="274.4" text-anchor="middle">2.5</text><text class="t" x="468.69" y="274.4" text-anchor="middle">3</text>
<text class="t" x="343.9" y="269.4" text-anchor="end">-1</text><text class="t" x="343.9" y="244.05" text-anchor="end">-0.5</text><text class="t" x="343.9" y="218.7" text-anchor="end">0</text><text class="t" x="343.9" y="193.35" text-anchor="end">0.5</text><text class="t" x="343.9" y="168" text-anchor="end">1</text>
<text class="l x" x="399.6" y="282"><tspan font-style="italic" textLength="12" lengthAdjust="spacingAndGlyphs">time</tspan><tspan x="418.1">[s]</tspan></text>
<g transform="translate(332.1 237.5) rotate(-90)"><text class="l y" style="font-size:7.8px;font-style:italic" x="0" y="0">E</text><text class="l y" style="font-size:5.5px;font-style:italic" x="4.7" y="1.4">λ</text><text class="l y" style="font-size:4px" x="7.4" y="2.3">2</text><text class="l x" style="font-size:8px" x="15.1" y="0.3">[</text><text class="l x" x="17.6" y="0" textLength="20.6" lengthAdjust="spacingAndGlyphs">mm/mm</text><text class="l x" style="font-size:8px" x="38.4" y="0.3">]</text></g>
<rect x="422.8" y="248.9" width="43.4" height="16.7" fill="#fff" stroke="#606060" stroke-width=".45"/>
<circle class="g" stroke-width=".62" cx="429.6" cy="253.5" r="1.25"/><circle class="b" stroke-width=".62" cx="429.6" cy="261.3" r="1.25"/>
<text class="l lg" x="436.9" y="255.5" textLength="27.9" lengthAdjust="spacingAndGlyphs">25% MVC</text><text class="l lg" x="436.9" y="263.3" textLength="27.9" lengthAdjust="spacingAndGlyphs">50% MVC</text>
<g class="g ser"><polyline class="ln" points="345.9,217 351.63,216.7 357.36,216.4 363.09,216.1 368.82,216 374.55,215.4 380.28,214.7 386.01,212.4 391.74,210.7 397.47,208.6 403.2,207.9 408.93,207.2 414.66,206.5 420.39,206.2 426.12,206.2 431.85,205.7 437.58,207.5 443.31,210.7 449.04,214 454.77,215.4 460.5,216.1 466.23,216.1"/><circle class="mk" cx="345.9" cy="217" r="0.9"/><circle class="mk" cx="351.63" cy="216.7" r="0.9"/><circle class="mk" cx="357.36" cy="216.4" r="0.9"/><circle class="mk" cx="363.09" cy="216.1" r="0.9"/><circle class="mk" cx="368.82" cy="216" r="0.9"/><circle class="mk" cx="374.55" cy="215.4" r="0.9"/><circle class="mk" cx="380.28" cy="214.7" r="0.9"/><circle class="mk" cx="386.01" cy="212.4" r="0.9"/><circle class="mk" cx="391.74" cy="210.7" r="0.9"/><circle class="mk" cx="397.47" cy="208.6" r="0.9"/><circle class="mk" cx="403.2" cy="207.9" r="0.9"/><circle class="mk" cx="408.93" cy="207.2" r="0.9"/><circle class="mk" cx="414.66" cy="206.5" r="0.9"/><circle class="mk" cx="420.39" cy="206.2" r="0.9"/><circle class="mk" cx="426.12" cy="206.2" r="0.9"/><circle class="mk" cx="431.85" cy="205.7" r="0.9"/><circle class="mk" cx="437.58" cy="207.5" r="0.9"/><circle class="mk" cx="443.31" cy="210.7" r="0.9"/><circle class="mk" cx="449.04" cy="214" r="0.9"/><circle class="mk" cx="454.77" cy="215.4" r="0.9"/><circle class="mk" cx="460.5" cy="216.1" r="0.9"/><circle class="mk" cx="466.23" cy="216.1" r="0.9"/></g>
<g class="b ser"><polyline class="ln" points="368.82,216.1 374.55,216.1 380.28,215.3 386.01,212.9 391.74,210.4 397.47,207.9 403.2,206.2 408.93,205 414.66,204.3 420.39,204.7 426.12,206.2 431.85,207.6 437.58,207.5 443.31,207.6 449.04,209.6 454.77,212.4 460.5,215 466.23,216"/><circle class="mk" cx="368.82" cy="216.1" r="0.9"/><circle class="mk" cx="374.55" cy="216.1" r="0.9"/><circle class="mk" cx="380.28" cy="215.3" r="0.9"/><circle class="mk" cx="386.01" cy="212.9" r="0.9"/><circle class="mk" cx="391.74" cy="210.4" r="0.9"/><circle class="mk" cx="397.47" cy="207.9" r="0.9"/><circle class="mk" cx="403.2" cy="206.2" r="0.9"/><circle class="mk" cx="408.93" cy="205" r="0.9"/><circle class="mk" cx="414.66" cy="204.3" r="0.9"/><circle class="mk" cx="420.39" cy="204.7" r="0.9"/><circle class="mk" cx="426.12" cy="206.2" r="0.9"/><circle class="mk" cx="431.85" cy="207.6" r="0.9"/><circle class="mk" cx="437.58" cy="207.5" r="0.9"/><circle class="mk" cx="443.31" cy="207.6" r="0.9"/><circle class="mk" cx="449.04" cy="209.6" r="0.9"/><circle class="mk" cx="454.77" cy="212.4" r="0.9"/><circle class="mk" cx="460.5" cy="215" r="0.9"/><circle class="mk" cx="466.23" cy="216" r="0.9"/></g>
<g class="g ser top"><polyline class="ln" points="345.9,217 351.63,216.7 357.36,216.4 363.09,216.1 368.82,216 374.55,215.4 380.28,214.7 386.01,212.4 391.74,210.7 397.47,208.6 403.2,207.9 408.93,207.2 414.66,206.5 420.39,206.2 426.12,206.2 431.85,205.7 437.58,207.5 443.31,210.7 449.04,214 454.77,215.4 460.5,216.1 466.23,216.1"/><circle class="mk" cx="345.9" cy="217" r="0.9"/><circle class="mk" cx="351.63" cy="216.7" r="0.9"/><circle class="mk" cx="357.36" cy="216.4" r="0.9"/><circle class="mk" cx="363.09" cy="216.1" r="0.9"/><circle class="mk" cx="368.82" cy="216" r="0.9"/><circle class="mk" cx="374.55" cy="215.4" r="0.9"/><circle class="mk" cx="380.28" cy="214.7" r="0.9"/><circle class="mk" cx="386.01" cy="212.4" r="0.9"/><circle class="mk" cx="391.74" cy="210.7" r="0.9"/><circle class="mk" cx="397.47" cy="208.6" r="0.9"/><circle class="mk" cx="403.2" cy="207.9" r="0.9"/><circle class="mk" cx="408.93" cy="207.2" r="0.9"/><circle class="mk" cx="414.66" cy="206.5" r="0.9"/><circle class="mk" cx="420.39" cy="206.2" r="0.9"/><circle class="mk" cx="426.12" cy="206.2" r="0.9"/><circle class="mk" cx="431.85" cy="205.7" r="0.9"/><circle class="mk" cx="437.58" cy="207.5" r="0.9"/><circle class="mk" cx="443.31" cy="210.7" r="0.9"/><circle class="mk" cx="449.04" cy="214" r="0.9"/><circle class="mk" cx="454.77" cy="215.4" r="0.9"/><circle class="mk" cx="460.5" cy="216.1" r="0.9"/><circle class="mk" cx="466.23" cy="216.1" r="0.9"/></g>
</g>
<g>
<path class="ax" d="M34.5 288.7V390.1H166.5M34.5 390.1v-1.3M54.97 390.1v-1.3M75.43 390.1v-1.3M95.89 390.1v-1.3M116.36 390.1v-1.3M136.82 390.1v-1.3M157.29 390.1v-1.3M34.5 390.1h1.3M34.5 364.75h1.3M34.5 339.4h1.3M34.5 314.05h1.3M34.5 288.7h1.3"/>
<text class="t" x="34.5" y="397.1" text-anchor="middle">0</text><text class="t" x="54.97" y="397.1" text-anchor="middle">0.5</text><text class="t" x="75.43" y="397.1" text-anchor="middle">1</text><text class="t" x="95.89" y="397.1" text-anchor="middle">1.5</text><text class="t" x="116.36" y="397.1" text-anchor="middle">2</text><text class="t" x="136.82" y="397.1" text-anchor="middle">2.5</text><text class="t" x="157.29" y="397.1" text-anchor="middle">3</text>
<text class="t" x="32.5" y="392.1" text-anchor="end">-1</text><text class="t" x="32.5" y="366.75" text-anchor="end">-0.5</text><text class="t" x="32.5" y="341.4" text-anchor="end">0</text><text class="t" x="32.5" y="316.05" text-anchor="end">0.5</text><text class="t" x="32.5" y="290.7" text-anchor="end">1</text>
<text class="l x" x="88.2" y="404.7"><tspan font-style="italic" textLength="12" lengthAdjust="spacingAndGlyphs">time</tspan><tspan x="106.7">[s]</tspan></text>
<g transform="translate(20.7 360.2) rotate(-90)"><text class="l y" style="font-size:7.8px;font-style:italic" x="0" y="0">E</text><text class="l y" style="font-size:5.5px;font-style:italic" x="4.7" y="1.4">λ</text><text class="l y" style="font-size:4px" x="7.4" y="2.3">3</text><text class="l x" style="font-size:8px" x="15.1" y="0.3">[</text><text class="l x" x="17.6" y="0" textLength="20.6" lengthAdjust="spacingAndGlyphs">mm/mm</text><text class="l x" style="font-size:8px" x="38.4" y="0.3">]</text></g>
<rect x="111.4" y="371.6" width="43.4" height="16.7" fill="#fff" stroke="#606060" stroke-width=".45"/>
<circle class="g" stroke-width=".62" cx="118.2" cy="376.2" r="1.25"/><circle class="b" stroke-width=".62" cx="118.2" cy="384" r="1.25"/>
<text class="l lg" x="125.5" y="378.2" textLength="27.9" lengthAdjust="spacingAndGlyphs">25% MVC</text><text class="l lg" x="125.5" y="386" textLength="27.9" lengthAdjust="spacingAndGlyphs">50% MVC</text>
<g class="g ser"><polyline class="ln" points="34.5,339.4 40.23,339.4 45.96,339.4 51.69,338.8 57.42,338.8 63.15,338.7 68.88,337.7 74.61,335.8 80.34,332.4 86.07,330.3 91.8,328.7 97.53,328.7 103.26,329.2 108.99,330.2 114.72,331.6 120.45,333.4 126.18,337 131.91,339.8 137.64,340.1 143.37,339.8 149.1,339.5 154.83,339.5"/><circle class="mk" cx="34.5" cy="339.4" r="0.9"/><circle class="mk" cx="40.23" cy="339.4" r="0.9"/><circle class="mk" cx="45.96" cy="339.4" r="0.9"/><circle class="mk" cx="51.69" cy="338.8" r="0.9"/><circle class="mk" cx="57.42" cy="338.8" r="0.9"/><circle class="mk" cx="63.15" cy="338.7" r="0.9"/><circle class="mk" cx="68.88" cy="337.7" r="0.9"/><circle class="mk" cx="74.61" cy="335.8" r="0.9"/><circle class="mk" cx="80.34" cy="332.4" r="0.9"/><circle class="mk" cx="86.07" cy="330.3" r="0.9"/><circle class="mk" cx="91.8" cy="328.7" r="0.9"/><circle class="mk" cx="97.53" cy="328.7" r="0.9"/><circle class="mk" cx="103.26" cy="329.2" r="0.9"/><circle class="mk" cx="108.99" cy="330.2" r="0.9"/><circle class="mk" cx="114.72" cy="331.6" r="0.9"/><circle class="mk" cx="120.45" cy="333.4" r="0.9"/><circle class="mk" cx="126.18" cy="337" r="0.9"/><circle class="mk" cx="131.91" cy="339.8" r="0.9"/><circle class="mk" cx="137.64" cy="340.1" r="0.9"/><circle class="mk" cx="143.37" cy="339.8" r="0.9"/><circle class="mk" cx="149.1" cy="339.5" r="0.9"/><circle class="mk" cx="154.83" cy="339.5" r="0.9"/></g>
<g class="b ser"><polyline class="ln" points="51.69,339.4 57.42,339.4 63.15,339.1 68.88,339.1 74.61,339.1 80.34,338.1 86.07,336.7 91.8,336.6 97.53,337 103.26,338 108.99,339.1 114.72,340.1 120.45,341.5 126.18,343 131.91,342.4 137.64,340.5 143.37,339.8 149.1,339.5 154.83,339.5"/><circle class="mk" cx="51.69" cy="339.4" r="0.9"/><circle class="mk" cx="57.42" cy="339.4" r="0.9"/><circle class="mk" cx="63.15" cy="339.1" r="0.9"/><circle class="mk" cx="68.88" cy="339.1" r="0.9"/><circle class="mk" cx="74.61" cy="339.1" r="0.9"/><circle class="mk" cx="80.34" cy="338.1" r="0.9"/><circle class="mk" cx="86.07" cy="336.7" r="0.9"/><circle class="mk" cx="91.8" cy="336.6" r="0.9"/><circle class="mk" cx="97.53" cy="337" r="0.9"/><circle class="mk" cx="103.26" cy="338" r="0.9"/><circle class="mk" cx="108.99" cy="339.1" r="0.9"/><circle class="mk" cx="114.72" cy="340.1" r="0.9"/><circle class="mk" cx="120.45" cy="341.5" r="0.9"/><circle class="mk" cx="126.18" cy="343" r="0.9"/><circle class="mk" cx="131.91" cy="342.4" r="0.9"/><circle class="mk" cx="137.64" cy="340.5" r="0.9"/><circle class="mk" cx="143.37" cy="339.8" r="0.9"/><circle class="mk" cx="149.1" cy="339.5" r="0.9"/><circle class="mk" cx="154.83" cy="339.5" r="0.9"/></g>
<g class="g ser top"><polyline class="ln" points="34.5,339.4 40.23,339.4 45.96,339.4 51.69,338.8 57.42,338.8 63.15,338.7 68.88,337.7 74.61,335.8 80.34,332.4 86.07,330.3 91.8,328.7 97.53,328.7 103.26,329.2 108.99,330.2 114.72,331.6 120.45,333.4 126.18,337 131.91,339.8 137.64,340.1 143.37,339.8 149.1,339.5 154.83,339.5"/><circle class="mk" cx="34.5" cy="339.4" r="0.9"/><circle class="mk" cx="40.23" cy="339.4" r="0.9"/><circle class="mk" cx="45.96" cy="339.4" r="0.9"/><circle class="mk" cx="51.69" cy="338.8" r="0.9"/><circle class="mk" cx="57.42" cy="338.8" r="0.9"/><circle class="mk" cx="63.15" cy="338.7" r="0.9"/><circle class="mk" cx="68.88" cy="337.7" r="0.9"/><circle class="mk" cx="74.61" cy="335.8" r="0.9"/><circle class="mk" cx="80.34" cy="332.4" r="0.9"/><circle class="mk" cx="86.07" cy="330.3" r="0.9"/><circle class="mk" cx="91.8" cy="328.7" r="0.9"/><circle class="mk" cx="97.53" cy="328.7" r="0.9"/><circle class="mk" cx="103.26" cy="329.2" r="0.9"/><circle class="mk" cx="108.99" cy="330.2" r="0.9"/><circle class="mk" cx="114.72" cy="331.6" r="0.9"/><circle class="mk" cx="120.45" cy="333.4" r="0.9"/><circle class="mk" cx="126.18" cy="337" r="0.9"/><circle class="mk" cx="131.91" cy="339.8" r="0.9"/><circle class="mk" cx="137.64" cy="340.1" r="0.9"/><circle class="mk" cx="143.37" cy="339.8" r="0.9"/><circle class="mk" cx="149.1" cy="339.5" r="0.9"/><circle class="mk" cx="154.83" cy="339.5" r="0.9"/></g>
</g>
<g>
<path class="ax" d="M189.8 288.7V390.1H321.8M189.8 390.1v-1.3M210.27 390.1v-1.3M230.73 390.1v-1.3M251.19 390.1v-1.3M271.66 390.1v-1.3M292.12 390.1v-1.3M312.59 390.1v-1.3M189.8 390.1h1.3M189.8 364.75h1.3M189.8 339.4h1.3M189.8 314.05h1.3M189.8 288.7h1.3"/>
<text class="t" x="189.8" y="397.1" text-anchor="middle">0</text><text class="t" x="210.27" y="397.1" text-anchor="middle">0.5</text><text class="t" x="230.73" y="397.1" text-anchor="middle">1</text><text class="t" x="251.19" y="397.1" text-anchor="middle">1.5</text><text class="t" x="271.66" y="397.1" text-anchor="middle">2</text><text class="t" x="292.12" y="397.1" text-anchor="middle">2.5</text><text class="t" x="312.59" y="397.1" text-anchor="middle">3</text>
<text class="t" x="187.8" y="392.1" text-anchor="end">-1</text><text class="t" x="187.8" y="366.75" text-anchor="end">-0.5</text><text class="t" x="187.8" y="341.4" text-anchor="end">0</text><text class="t" x="187.8" y="316.05" text-anchor="end">0.5</text><text class="t" x="187.8" y="290.7" text-anchor="end">1</text>
<text class="l x" x="243.5" y="404.7"><tspan font-style="italic" textLength="12" lengthAdjust="spacingAndGlyphs">time</tspan><tspan x="262">[s]</tspan></text>
<g transform="translate(176 360.2) rotate(-90)"><text class="l y" style="font-size:7.8px;font-style:italic" x="0" y="0">E</text><text class="l y" style="font-size:5.5px;font-style:italic" x="4.7" y="1.4">λ</text><text class="l y" style="font-size:4px" x="7.4" y="2.3">3</text><text class="l x" style="font-size:8px" x="15.1" y="0.3">[</text><text class="l x" x="17.6" y="0" textLength="20.6" lengthAdjust="spacingAndGlyphs">mm/mm</text><text class="l x" style="font-size:8px" x="38.4" y="0.3">]</text></g>
<rect x="266.7" y="290.6" width="43.4" height="16.7" fill="#fff" stroke="#606060" stroke-width=".45"/>
<circle class="g" stroke-width=".62" cx="273.5" cy="295.2" r="1.25"/><circle class="b" stroke-width=".62" cx="273.5" cy="303" r="1.25"/>
<text class="l lg" x="280.8" y="297.2" textLength="27.9" lengthAdjust="spacingAndGlyphs">25% MVC</text><text class="l lg" x="280.8" y="305" textLength="27.9" lengthAdjust="spacingAndGlyphs">50% MVC</text>
<g class="g ser"><polyline class="ln" points="189.8,339.4 195.53,338.7 201.26,338.4 206.99,338.1 212.72,338 218.45,337 224.18,337 229.91,339.1 235.64,342.4 241.37,344.1 247.1,344.1 252.83,343.8 258.56,343.7 264.29,343.1 270.02,342.7 275.75,343.4 281.48,345.2 287.21,347.7 292.94,347.2 298.67,345.5 304.4,343.4 310.13,340.5"/><circle class="mk" cx="189.8" cy="339.4" r="0.9"/><circle class="mk" cx="195.53" cy="338.7" r="0.9"/><circle class="mk" cx="201.26" cy="338.4" r="0.9"/><circle class="mk" cx="206.99" cy="338.1" r="0.9"/><circle class="mk" cx="212.72" cy="338" r="0.9"/><circle class="mk" cx="218.45" cy="337" r="0.9"/><circle class="mk" cx="224.18" cy="337" r="0.9"/><circle class="mk" cx="229.91" cy="339.1" r="0.9"/><circle class="mk" cx="235.64" cy="342.4" r="0.9"/><circle class="mk" cx="241.37" cy="344.1" r="0.9"/><circle class="mk" cx="247.1" cy="344.1" r="0.9"/><circle class="mk" cx="252.83" cy="343.8" r="0.9"/><circle class="mk" cx="258.56" cy="343.7" r="0.9"/><circle class="mk" cx="264.29" cy="343.1" r="0.9"/><circle class="mk" cx="270.02" cy="342.7" r="0.9"/><circle class="mk" cx="275.75" cy="343.4" r="0.9"/><circle class="mk" cx="281.48" cy="345.2" r="0.9"/><circle class="mk" cx="287.21" cy="347.7" r="0.9"/><circle class="mk" cx="292.94" cy="347.2" r="0.9"/><circle class="mk" cx="298.67" cy="345.5" r="0.9"/><circle class="mk" cx="304.4" cy="343.4" r="0.9"/><circle class="mk" cx="310.13" cy="340.5" r="0.9"/></g>
<g class="b ser"><polyline class="ln" points="195.53,339.4 201.26,339.5 206.99,340.1 212.72,340.3 218.45,340.3 224.18,340.3 229.91,340.5 235.64,339.8 241.37,338 247.1,336 252.83,335.1 258.56,334.8 264.29,335.1 270.02,335.1 275.75,335.1 281.48,337 287.21,340.5 292.94,343.4 298.67,343.1 304.4,341.5 310.13,340.3"/><circle class="mk" cx="195.53" cy="339.4" r="0.9"/><circle class="mk" cx="201.26" cy="339.5" r="0.9"/><circle class="mk" cx="206.99" cy="340.1" r="0.9"/><circle class="mk" cx="212.72" cy="340.3" r="0.9"/><circle class="mk" cx="218.45" cy="340.3" r="0.9"/><circle class="mk" cx="224.18" cy="340.3" r="0.9"/><circle class="mk" cx="229.91" cy="340.5" r="0.9"/><circle class="mk" cx="235.64" cy="339.8" r="0.9"/><circle class="mk" cx="241.37" cy="338" r="0.9"/><circle class="mk" cx="247.1" cy="336" r="0.9"/><circle class="mk" cx="252.83" cy="335.1" r="0.9"/><circle class="mk" cx="258.56" cy="334.8" r="0.9"/><circle class="mk" cx="264.29" cy="335.1" r="0.9"/><circle class="mk" cx="270.02" cy="335.1" r="0.9"/><circle class="mk" cx="275.75" cy="335.1" r="0.9"/><circle class="mk" cx="281.48" cy="337" r="0.9"/><circle class="mk" cx="287.21" cy="340.5" r="0.9"/><circle class="mk" cx="292.94" cy="343.4" r="0.9"/><circle class="mk" cx="298.67" cy="343.1" r="0.9"/><circle class="mk" cx="304.4" cy="341.5" r="0.9"/><circle class="mk" cx="310.13" cy="340.3" r="0.9"/></g>
<g class="g ser top"><polyline class="ln" points="189.8,339.4 195.53,338.7 201.26,338.4 206.99,338.1 212.72,338 218.45,337 224.18,337 229.91,339.1 235.64,342.4 241.37,344.1 247.1,344.1 252.83,343.8 258.56,343.7 264.29,343.1 270.02,342.7 275.75,343.4 281.48,345.2 287.21,347.7 292.94,347.2 298.67,345.5 304.4,343.4 310.13,340.5"/><circle class="mk" cx="189.8" cy="339.4" r="0.9"/><circle class="mk" cx="195.53" cy="338.7" r="0.9"/><circle class="mk" cx="201.26" cy="338.4" r="0.9"/><circle class="mk" cx="206.99" cy="338.1" r="0.9"/><circle class="mk" cx="212.72" cy="338" r="0.9"/><circle class="mk" cx="218.45" cy="337" r="0.9"/><circle class="mk" cx="224.18" cy="337" r="0.9"/><circle class="mk" cx="229.91" cy="339.1" r="0.9"/><circle class="mk" cx="235.64" cy="342.4" r="0.9"/><circle class="mk" cx="241.37" cy="344.1" r="0.9"/><circle class="mk" cx="247.1" cy="344.1" r="0.9"/><circle class="mk" cx="252.83" cy="343.8" r="0.9"/><circle class="mk" cx="258.56" cy="343.7" r="0.9"/><circle class="mk" cx="264.29" cy="343.1" r="0.9"/><circle class="mk" cx="270.02" cy="342.7" r="0.9"/><circle class="mk" cx="275.75" cy="343.4" r="0.9"/><circle class="mk" cx="281.48" cy="345.2" r="0.9"/><circle class="mk" cx="287.21" cy="347.7" r="0.9"/><circle class="mk" cx="292.94" cy="347.2" r="0.9"/><circle class="mk" cx="298.67" cy="345.5" r="0.9"/><circle class="mk" cx="304.4" cy="343.4" r="0.9"/><circle class="mk" cx="310.13" cy="340.5" r="0.9"/></g>
</g>
<g>
<path class="ax" d="M345.9 288.7V390.1H477.9M345.9 390.1v-1.3M366.36 390.1v-1.3M386.83 390.1v-1.3M407.29 390.1v-1.3M427.76 390.1v-1.3M448.22 390.1v-1.3M468.69 390.1v-1.3M345.9 390.1h1.3M345.9 364.75h1.3M345.9 339.4h1.3M345.9 314.05h1.3M345.9 288.7h1.3"/>
<text class="t" x="345.9" y="397.1" text-anchor="middle">0</text><text class="t" x="366.36" y="397.1" text-anchor="middle">0.5</text><text class="t" x="386.83" y="397.1" text-anchor="middle">1</text><text class="t" x="407.29" y="397.1" text-anchor="middle">1.5</text><text class="t" x="427.76" y="397.1" text-anchor="middle">2</text><text class="t" x="448.22" y="397.1" text-anchor="middle">2.5</text><text class="t" x="468.69" y="397.1" text-anchor="middle">3</text>
<text class="t" x="343.9" y="392.1" text-anchor="end">-1</text><text class="t" x="343.9" y="366.75" text-anchor="end">-0.5</text><text class="t" x="343.9" y="341.4" text-anchor="end">0</text><text class="t" x="343.9" y="316.05" text-anchor="end">0.5</text><text class="t" x="343.9" y="290.7" text-anchor="end">1</text>
<text class="l x" x="399.6" y="404.7"><tspan font-style="italic" textLength="12" lengthAdjust="spacingAndGlyphs">time</tspan><tspan x="418.1">[s]</tspan></text>
<g transform="translate(332.1 360.2) rotate(-90)"><text class="l y" style="font-size:7.8px;font-style:italic" x="0" y="0">E</text><text class="l y" style="font-size:5.5px;font-style:italic" x="4.7" y="1.4">λ</text><text class="l y" style="font-size:4px" x="7.4" y="2.3">3</text><text class="l x" style="font-size:8px" x="15.1" y="0.3">[</text><text class="l x" x="17.6" y="0" textLength="20.6" lengthAdjust="spacingAndGlyphs">mm/mm</text><text class="l x" style="font-size:8px" x="38.4" y="0.3">]</text></g>
<rect x="422.8" y="290.6" width="43.4" height="16.7" fill="#fff" stroke="#606060" stroke-width=".45"/>
<circle class="g" stroke-width=".62" cx="429.6" cy="295.2" r="1.25"/><circle class="b" stroke-width=".62" cx="429.6" cy="303" r="1.25"/>
<text class="l lg" x="436.9" y="297.2" textLength="27.9" lengthAdjust="spacingAndGlyphs">25% MVC</text><text class="l lg" x="436.9" y="305" textLength="27.9" lengthAdjust="spacingAndGlyphs">50% MVC</text>
<g class="g ser"><polyline class="ln" points="345.9,339.1 351.63,339.5 357.36,339.5 363.09,339.8 368.82,339.8 374.55,340.3 380.28,340.8 386.01,341 391.74,341.5 397.47,341 403.2,340.5 408.93,340.3 414.66,340.5 420.39,340.5 426.12,340.8 431.85,342.4 437.58,343.4 443.31,342 449.04,340.1 454.77,339.4 460.5,339.4 466.23,339.4"/><circle class="mk" cx="345.9" cy="339.1" r="0.9"/><circle class="mk" cx="351.63" cy="339.5" r="0.9"/><circle class="mk" cx="357.36" cy="339.5" r="0.9"/><circle class="mk" cx="363.09" cy="339.8" r="0.9"/><circle class="mk" cx="368.82" cy="339.8" r="0.9"/><circle class="mk" cx="374.55" cy="340.3" r="0.9"/><circle class="mk" cx="380.28" cy="340.8" r="0.9"/><circle class="mk" cx="386.01" cy="341" r="0.9"/><circle class="mk" cx="391.74" cy="341.5" r="0.9"/><circle class="mk" cx="397.47" cy="341" r="0.9"/><circle class="mk" cx="403.2" cy="340.5" r="0.9"/><circle class="mk" cx="408.93" cy="340.3" r="0.9"/><circle class="mk" cx="414.66" cy="340.5" r="0.9"/><circle class="mk" cx="420.39" cy="340.5" r="0.9"/><circle class="mk" cx="426.12" cy="340.8" r="0.9"/><circle class="mk" cx="431.85" cy="342.4" r="0.9"/><circle class="mk" cx="437.58" cy="343.4" r="0.9"/><circle class="mk" cx="443.31" cy="342" r="0.9"/><circle class="mk" cx="449.04" cy="340.1" r="0.9"/><circle class="mk" cx="454.77" cy="339.4" r="0.9"/><circle class="mk" cx="460.5" cy="339.4" r="0.9"/><circle class="mk" cx="466.23" cy="339.4" r="0.9"/></g>
<g class="b ser"><polyline class="ln" points="351.63,339.5 357.36,339.5 363.09,339.5 368.82,339.5 374.55,339.8 380.28,340.3 386.01,342 391.74,344.1 397.47,345.1 403.2,344.8 408.93,344.4 414.66,344.1 420.39,344.1 426.12,344.1 431.85,345.5 437.58,347.7 443.31,348.4 449.04,346.7 454.77,343 460.5,340.1 466.23,339.5"/><circle class="mk" cx="351.63" cy="339.5" r="0.9"/><circle class="mk" cx="357.36" cy="339.5" r="0.9"/><circle class="mk" cx="363.09" cy="339.5" r="0.9"/><circle class="mk" cx="368.82" cy="339.5" r="0.9"/><circle class="mk" cx="374.55" cy="339.8" r="0.9"/><circle class="mk" cx="380.28" cy="340.3" r="0.9"/><circle class="mk" cx="386.01" cy="342" r="0.9"/><circle class="mk" cx="391.74" cy="344.1" r="0.9"/><circle class="mk" cx="397.47" cy="345.1" r="0.9"/><circle class="mk" cx="403.2" cy="344.8" r="0.9"/><circle class="mk" cx="408.93" cy="344.4" r="0.9"/><circle class="mk" cx="414.66" cy="344.1" r="0.9"/><circle class="mk" cx="420.39" cy="344.1" r="0.9"/><circle class="mk" cx="426.12" cy="344.1" r="0.9"/><circle class="mk" cx="431.85" cy="345.5" r="0.9"/><circle class="mk" cx="437.58" cy="347.7" r="0.9"/><circle class="mk" cx="443.31" cy="348.4" r="0.9"/><circle class="mk" cx="449.04" cy="346.7" r="0.9"/><circle class="mk" cx="454.77" cy="343" r="0.9"/><circle class="mk" cx="460.5" cy="340.1" r="0.9"/><circle class="mk" cx="466.23" cy="339.5" r="0.9"/></g>
<g class="g ser top"><polyline class="ln" points="345.9,339.1 351.63,339.5 357.36,339.5 363.09,339.8 368.82,339.8 374.55,340.3 380.28,340.8 386.01,341 391.74,341.5 397.47,341 403.2,340.5 408.93,340.3 414.66,340.5 420.39,340.5 426.12,340.8 431.85,342.4 437.58,343.4 443.31,342 449.04,340.1 454.77,339.4 460.5,339.4 466.23,339.4"/><circle class="mk" cx="345.9" cy="339.1" r="0.9"/><circle class="mk" cx="351.63" cy="339.5" r="0.9"/><circle class="mk" cx="357.36" cy="339.5" r="0.9"/><circle class="mk" cx="363.09" cy="339.8" r="0.9"/><circle class="mk" cx="368.82" cy="339.8" r="0.9"/><circle class="mk" cx="374.55" cy="340.3" r="0.9"/><circle class="mk" cx="380.28" cy="340.8" r="0.9"/><circle class="mk" cx="386.01" cy="341" r="0.9"/><circle class="mk" cx="391.74" cy="341.5" r="0.9"/><circle class="mk" cx="397.47" cy="341" r="0.9"/><circle class="mk" cx="403.2" cy="340.5" r="0.9"/><circle class="mk" cx="408.93" cy="340.3" r="0.9"/><circle class="mk" cx="414.66" cy="340.5" r="0.9"/><circle class="mk" cx="420.39" cy="340.5" r="0.9"/><circle class="mk" cx="426.12" cy="340.8" r="0.9"/><circle class="mk" cx="431.85" cy="342.4" r="0.9"/><circle class="mk" cx="437.58" cy="343.4" r="0.9"/><circle class="mk" cx="443.31" cy="342" r="0.9"/><circle class="mk" cx="449.04" cy="340.1" r="0.9"/><circle class="mk" cx="454.77" cy="339.4" r="0.9"/><circle class="mk" cx="460.5" cy="339.4" r="0.9"/><circle class="mk" cx="466.23" cy="339.4" r="0.9"/></g>
</g>
<g>
<path class="ax" d="M34.5 411V512.4H166.5M34.5 512.4v-1.3M54.97 512.4v-1.3M75.43 512.4v-1.3M95.89 512.4v-1.3M116.36 512.4v-1.3M136.82 512.4v-1.3M157.29 512.4v-1.3M34.5 512.4h1.3M34.5 487.05h1.3M34.5 461.7h1.3M34.5 436.35h1.3M34.5 411h1.3"/>
<text class="t" x="34.5" y="519.4" text-anchor="middle">0</text><text class="t" x="54.97" y="519.4" text-anchor="middle">0.5</text><text class="t" x="75.43" y="519.4" text-anchor="middle">1</text><text class="t" x="95.89" y="519.4" text-anchor="middle">1.5</text><text class="t" x="116.36" y="519.4" text-anchor="middle">2</text><text class="t" x="136.82" y="519.4" text-anchor="middle">2.5</text><text class="t" x="157.29" y="519.4" text-anchor="middle">3</text>
<text class="t" x="32.5" y="514.4" text-anchor="end">-1</text><text class="t" x="32.5" y="489.05" text-anchor="end">-0.5</text><text class="t" x="32.5" y="463.7" text-anchor="end">0</text><text class="t" x="32.5" y="438.35" text-anchor="end">0.5</text><text class="t" x="32.5" y="413" text-anchor="end">1</text>
<text class="l x" x="88.2" y="527"><tspan font-style="italic" textLength="12" lengthAdjust="spacingAndGlyphs">time</tspan><tspan x="106.7">[s]</tspan></text>
<g transform="translate(20.7 485.3) rotate(-90)"><text class="l y" style="font-size:7.8px;font-style:italic" x="0" y="0">E</text><text class="l y" style="font-size:5.2px;font-style:italic" x="5" y="1.3">max</text><text class="l x" style="font-size:8px" x="19.3" y="0.3">[</text><text class="l x" x="21.8" y="0" textLength="20.6" lengthAdjust="spacingAndGlyphs">mm/mm</text><text class="l x" style="font-size:8px" x="42.6" y="0.3">]</text></g>
<rect x="111.4" y="412.9" width="43.4" height="16.7" fill="#fff" stroke="#606060" stroke-width=".45"/>
<circle class="g" stroke-width=".62" cx="118.2" cy="417.5" r="1.25"/><circle class="b" stroke-width=".62" cx="118.2" cy="425.3" r="1.25"/>
<text class="l lg" x="125.5" y="419.5" textLength="27.9" lengthAdjust="spacingAndGlyphs">25% MVC</text><text class="l lg" x="125.5" y="427.3" textLength="27.9" lengthAdjust="spacingAndGlyphs">50% MVC</text>
<g class="g ser"><polyline class="ln" points="34.5,461.7 40.23,462.3 45.96,462.7 51.69,463 57.42,463.1 63.15,463.4 68.88,463.4 74.61,463.8 80.34,466.5 86.07,469.4 91.8,471.9 97.53,473.9 103.26,474.8 108.99,475.2 114.72,474.5 120.45,472.9 126.18,470.1 131.91,466.7 137.64,464.4 143.37,463.4 149.1,463 154.83,462.3"/><circle class="mk" cx="34.5" cy="461.7" r="0.9"/><circle class="mk" cx="40.23" cy="462.3" r="0.9"/><circle class="mk" cx="45.96" cy="462.7" r="0.9"/><circle class="mk" cx="51.69" cy="463" r="0.9"/><circle class="mk" cx="57.42" cy="463.1" r="0.9"/><circle class="mk" cx="63.15" cy="463.4" r="0.9"/><circle class="mk" cx="68.88" cy="463.4" r="0.9"/><circle class="mk" cx="74.61" cy="463.8" r="0.9"/><circle class="mk" cx="80.34" cy="466.5" r="0.9"/><circle class="mk" cx="86.07" cy="469.4" r="0.9"/><circle class="mk" cx="91.8" cy="471.9" r="0.9"/><circle class="mk" cx="97.53" cy="473.9" r="0.9"/><circle class="mk" cx="103.26" cy="474.8" r="0.9"/><circle class="mk" cx="108.99" cy="475.2" r="0.9"/><circle class="mk" cx="114.72" cy="474.5" r="0.9"/><circle class="mk" cx="120.45" cy="472.9" r="0.9"/><circle class="mk" cx="126.18" cy="470.1" r="0.9"/><circle class="mk" cx="131.91" cy="466.7" r="0.9"/><circle class="mk" cx="137.64" cy="464.4" r="0.9"/><circle class="mk" cx="143.37" cy="463.4" r="0.9"/><circle class="mk" cx="149.1" cy="463" r="0.9"/><circle class="mk" cx="154.83" cy="462.3" r="0.9"/></g>
<g class="b ser"><polyline class="ln" points="40.23,462.3 45.96,462.7 51.69,463 57.42,463.1 63.15,463.4 68.88,464.1 74.61,466.3 80.34,470.2 86.07,473.1 91.8,474.8 97.53,475.2 103.26,475.5 108.99,475.2 114.72,474.4 120.45,472.7 126.18,469.8 131.91,466.5 137.64,464.1 143.37,463.4 149.1,463 154.83,462.3"/><circle class="mk" cx="40.23" cy="462.3" r="0.9"/><circle class="mk" cx="45.96" cy="462.7" r="0.9"/><circle class="mk" cx="51.69" cy="463" r="0.9"/><circle class="mk" cx="57.42" cy="463.1" r="0.9"/><circle class="mk" cx="63.15" cy="463.4" r="0.9"/><circle class="mk" cx="68.88" cy="464.1" r="0.9"/><circle class="mk" cx="74.61" cy="466.3" r="0.9"/><circle class="mk" cx="80.34" cy="470.2" r="0.9"/><circle class="mk" cx="86.07" cy="473.1" r="0.9"/><circle class="mk" cx="91.8" cy="474.8" r="0.9"/><circle class="mk" cx="97.53" cy="475.2" r="0.9"/><circle class="mk" cx="103.26" cy="475.5" r="0.9"/><circle class="mk" cx="108.99" cy="475.2" r="0.9"/><circle class="mk" cx="114.72" cy="474.4" r="0.9"/><circle class="mk" cx="120.45" cy="472.7" r="0.9"/><circle class="mk" cx="126.18" cy="469.8" r="0.9"/><circle class="mk" cx="131.91" cy="466.5" r="0.9"/><circle class="mk" cx="137.64" cy="464.1" r="0.9"/><circle class="mk" cx="143.37" cy="463.4" r="0.9"/><circle class="mk" cx="149.1" cy="463" r="0.9"/><circle class="mk" cx="154.83" cy="462.3" r="0.9"/></g>
<g class="g ser top"><polyline class="ln" points="34.5,461.7 40.23,462.3 45.96,462.7 51.69,463 57.42,463.1 63.15,463.4 68.88,463.4 74.61,463.8 80.34,466.5 86.07,469.4 91.8,471.9 97.53,473.9 103.26,474.8 108.99,475.2 114.72,474.5 120.45,472.9 126.18,470.1 131.91,466.7 137.64,464.4 143.37,463.4 149.1,463 154.83,462.3"/><circle class="mk" cx="34.5" cy="461.7" r="0.9"/><circle class="mk" cx="40.23" cy="462.3" r="0.9"/><circle class="mk" cx="45.96" cy="462.7" r="0.9"/><circle class="mk" cx="51.69" cy="463" r="0.9"/><circle class="mk" cx="57.42" cy="463.1" r="0.9"/><circle class="mk" cx="63.15" cy="463.4" r="0.9"/><circle class="mk" cx="68.88" cy="463.4" r="0.9"/><circle class="mk" cx="74.61" cy="463.8" r="0.9"/><circle class="mk" cx="80.34" cy="466.5" r="0.9"/><circle class="mk" cx="86.07" cy="469.4" r="0.9"/><circle class="mk" cx="91.8" cy="471.9" r="0.9"/><circle class="mk" cx="97.53" cy="473.9" r="0.9"/><circle class="mk" cx="103.26" cy="474.8" r="0.9"/><circle class="mk" cx="108.99" cy="475.2" r="0.9"/><circle class="mk" cx="114.72" cy="474.5" r="0.9"/><circle class="mk" cx="120.45" cy="472.9" r="0.9"/><circle class="mk" cx="126.18" cy="470.1" r="0.9"/><circle class="mk" cx="131.91" cy="466.7" r="0.9"/><circle class="mk" cx="137.64" cy="464.4" r="0.9"/><circle class="mk" cx="143.37" cy="463.4" r="0.9"/><circle class="mk" cx="149.1" cy="463" r="0.9"/><circle class="mk" cx="154.83" cy="462.3" r="0.9"/></g>
</g>
<g>
<path class="ax" d="M189.8 411V512.4H321.8M189.8 512.4v-1.3M210.27 512.4v-1.3M230.73 512.4v-1.3M251.19 512.4v-1.3M271.66 512.4v-1.3M292.12 512.4v-1.3M312.59 512.4v-1.3M189.8 512.4h1.3M189.8 487.05h1.3M189.8 461.7h1.3M189.8 436.35h1.3M189.8 411h1.3"/>
<text class="t" x="189.8" y="519.4" text-anchor="middle">0</text><text class="t" x="210.27" y="519.4" text-anchor="middle">0.5</text><text class="t" x="230.73" y="519.4" text-anchor="middle">1</text><text class="t" x="251.19" y="519.4" text-anchor="middle">1.5</text><text class="t" x="271.66" y="519.4" text-anchor="middle">2</text><text class="t" x="292.12" y="519.4" text-anchor="middle">2.5</text><text class="t" x="312.59" y="519.4" text-anchor="middle">3</text>
<text class="t" x="187.8" y="514.4" text-anchor="end">-1</text><text class="t" x="187.8" y="489.05" text-anchor="end">-0.5</text><text class="t" x="187.8" y="463.7" text-anchor="end">0</text><text class="t" x="187.8" y="438.35" text-anchor="end">0.5</text><text class="t" x="187.8" y="413" text-anchor="end">1</text>
<text class="l x" x="243.5" y="527"><tspan font-style="italic" textLength="12" lengthAdjust="spacingAndGlyphs">time</tspan><tspan x="262">[s]</tspan></text>
<g transform="translate(176 485.3) rotate(-90)"><text class="l y" style="font-size:7.8px;font-style:italic" x="0" y="0">E</text><text class="l y" style="font-size:5.2px;font-style:italic" x="5" y="1.3">max</text><text class="l x" style="font-size:8px" x="19.3" y="0.3">[</text><text class="l x" x="21.8" y="0" textLength="20.6" lengthAdjust="spacingAndGlyphs">mm/mm</text><text class="l x" style="font-size:8px" x="42.6" y="0.3">]</text></g>
<rect x="266.7" y="412.9" width="43.4" height="16.7" fill="#fff" stroke="#606060" stroke-width=".45"/>
<circle class="g" stroke-width=".62" cx="273.5" cy="417.5" r="1.25"/><circle class="b" stroke-width=".62" cx="273.5" cy="425.3" r="1.25"/>
<text class="l lg" x="280.8" y="419.5" textLength="27.9" lengthAdjust="spacingAndGlyphs">25% MVC</text><text class="l lg" x="280.8" y="427.3" textLength="27.9" lengthAdjust="spacingAndGlyphs">50% MVC</text>
<g class="g ser"><polyline class="ln" points="189.8,461.7 195.53,462 201.26,462.3 206.99,462.7 212.72,463 218.45,463.1 224.18,463.1 229.91,463.1 235.64,464.8 241.37,467 247.1,468.8 252.83,470.2 258.56,470.9 264.29,470.9 270.02,470.2 275.75,468.4 281.48,466.5 287.21,465.5 292.94,464.8 298.67,464.1 304.4,463.4 310.13,462.4"/><circle class="mk" cx="189.8" cy="461.7" r="0.9"/><circle class="mk" cx="195.53" cy="462" r="0.9"/><circle class="mk" cx="201.26" cy="462.3" r="0.9"/><circle class="mk" cx="206.99" cy="462.7" r="0.9"/><circle class="mk" cx="212.72" cy="463" r="0.9"/><circle class="mk" cx="218.45" cy="463.1" r="0.9"/><circle class="mk" cx="224.18" cy="463.1" r="0.9"/><circle class="mk" cx="229.91" cy="463.1" r="0.9"/><circle class="mk" cx="235.64" cy="464.8" r="0.9"/><circle class="mk" cx="241.37" cy="467" r="0.9"/><circle class="mk" cx="247.1" cy="468.8" r="0.9"/><circle class="mk" cx="252.83" cy="470.2" r="0.9"/><circle class="mk" cx="258.56" cy="470.9" r="0.9"/><circle class="mk" cx="264.29" cy="470.9" r="0.9"/><circle class="mk" cx="270.02" cy="470.2" r="0.9"/><circle class="mk" cx="275.75" cy="468.4" r="0.9"/><circle class="mk" cx="281.48" cy="466.5" r="0.9"/><circle class="mk" cx="287.21" cy="465.5" r="0.9"/><circle class="mk" cx="292.94" cy="464.8" r="0.9"/><circle class="mk" cx="298.67" cy="464.1" r="0.9"/><circle class="mk" cx="304.4" cy="463.4" r="0.9"/><circle class="mk" cx="310.13" cy="462.4" r="0.9"/></g>
<g class="b ser"><polyline class="ln" points="195.53,462 201.26,462.3 206.99,462.7 212.72,463 218.45,463.1 224.18,463.1 229.91,465.5 235.64,470.5 241.37,474.5 247.1,477.3 252.83,478.8 258.56,479.3 264.29,479.1 270.02,477.6 275.75,475.1 281.48,471.9 287.21,468.4 292.94,465.5 298.67,464.1 304.4,463.1 310.13,462.4"/><circle class="mk" cx="195.53" cy="462" r="0.9"/><circle class="mk" cx="201.26" cy="462.3" r="0.9"/><circle class="mk" cx="206.99" cy="462.7" r="0.9"/><circle class="mk" cx="212.72" cy="463" r="0.9"/><circle class="mk" cx="218.45" cy="463.1" r="0.9"/><circle class="mk" cx="224.18" cy="463.1" r="0.9"/><circle class="mk" cx="229.91" cy="465.5" r="0.9"/><circle class="mk" cx="235.64" cy="470.5" r="0.9"/><circle class="mk" cx="241.37" cy="474.5" r="0.9"/><circle class="mk" cx="247.1" cy="477.3" r="0.9"/><circle class="mk" cx="252.83" cy="478.8" r="0.9"/><circle class="mk" cx="258.56" cy="479.3" r="0.9"/><circle class="mk" cx="264.29" cy="479.1" r="0.9"/><circle class="mk" cx="270.02" cy="477.6" r="0.9"/><circle class="mk" cx="275.75" cy="475.1" r="0.9"/><circle class="mk" cx="281.48" cy="471.9" r="0.9"/><circle class="mk" cx="287.21" cy="468.4" r="0.9"/><circle class="mk" cx="292.94" cy="465.5" r="0.9"/><circle class="mk" cx="298.67" cy="464.1" r="0.9"/><circle class="mk" cx="304.4" cy="463.1" r="0.9"/><circle class="mk" cx="310.13" cy="462.4" r="0.9"/></g>
<g class="g ser top"><polyline class="ln" points="189.8,461.7 195.53,462 201.26,462.3 206.99,462.7 212.72,463 218.45,463.1 224.18,463.1 229.91,463.1 235.64,464.8 241.37,467 247.1,468.8 252.83,470.2 258.56,470.9 264.29,470.9 270.02,470.2 275.75,468.4 281.48,466.5 287.21,465.5 292.94,464.8 298.67,464.1 304.4,463.4 310.13,462.4"/><circle class="mk" cx="189.8" cy="461.7" r="0.9"/><circle class="mk" cx="195.53" cy="462" r="0.9"/><circle class="mk" cx="201.26" cy="462.3" r="0.9"/><circle class="mk" cx="206.99" cy="462.7" r="0.9"/><circle class="mk" cx="212.72" cy="463" r="0.9"/><circle class="mk" cx="218.45" cy="463.1" r="0.9"/><circle class="mk" cx="224.18" cy="463.1" r="0.9"/><circle class="mk" cx="229.91" cy="463.1" r="0.9"/><circle class="mk" cx="235.64" cy="464.8" r="0.9"/><circle class="mk" cx="241.37" cy="467" r="0.9"/><circle class="mk" cx="247.1" cy="468.8" r="0.9"/><circle class="mk" cx="252.83" cy="470.2" r="0.9"/><circle class="mk" cx="258.56" cy="470.9" r="0.9"/><circle class="mk" cx="264.29" cy="470.9" r="0.9"/><circle class="mk" cx="270.02" cy="470.2" r="0.9"/><circle class="mk" cx="275.75" cy="468.4" r="0.9"/><circle class="mk" cx="281.48" cy="466.5" r="0.9"/><circle class="mk" cx="287.21" cy="465.5" r="0.9"/><circle class="mk" cx="292.94" cy="464.8" r="0.9"/><circle class="mk" cx="298.67" cy="464.1" r="0.9"/><circle class="mk" cx="304.4" cy="463.4" r="0.9"/><circle class="mk" cx="310.13" cy="462.4" r="0.9"/></g>
</g>
<g>
<path class="ax" d="M345.9 411V512.4H477.9M345.9 512.4v-1.3M366.36 512.4v-1.3M386.83 512.4v-1.3M407.29 512.4v-1.3M427.76 512.4v-1.3M448.22 512.4v-1.3M468.69 512.4v-1.3M345.9 512.4h1.3M345.9 487.05h1.3M345.9 461.7h1.3M345.9 436.35h1.3M345.9 411h1.3"/>
<text class="t" x="345.9" y="519.4" text-anchor="middle">0</text><text class="t" x="366.36" y="519.4" text-anchor="middle">0.5</text><text class="t" x="386.83" y="519.4" text-anchor="middle">1</text><text class="t" x="407.29" y="519.4" text-anchor="middle">1.5</text><text class="t" x="427.76" y="519.4" text-anchor="middle">2</text><text class="t" x="448.22" y="519.4" text-anchor="middle">2.5</text><text class="t" x="468.69" y="519.4" text-anchor="middle">3</text>
<text class="t" x="343.9" y="514.4" text-anchor="end">-1</text><text class="t" x="343.9" y="489.05" text-anchor="end">-0.5</text><text class="t" x="343.9" y="463.7" text-anchor="end">0</text><text class="t" x="343.9" y="438.35" text-anchor="end">0.5</text><text class="t" x="343.9" y="413" text-anchor="end">1</text>
<text class="l x" x="399.6" y="527"><tspan font-style="italic" textLength="12" lengthAdjust="spacingAndGlyphs">time</tspan><tspan x="418.1">[s]</tspan></text>
<g transform="translate(332.1 485.3) rotate(-90)"><text class="l y" style="font-size:7.8px;font-style:italic" x="0" y="0">E</text><text class="l y" style="font-size:5.2px;font-style:italic" x="5" y="1.3">max</text><text class="l x" style="font-size:8px" x="19.3" y="0.3">[</text><text class="l x" x="21.8" y="0" textLength="20.6" lengthAdjust="spacingAndGlyphs">mm/mm</text><text class="l x" style="font-size:8px" x="42.6" y="0.3">]</text></g>
<rect x="422.8" y="412.9" width="43.4" height="16.7" fill="#fff" stroke="#606060" stroke-width=".45"/>
<circle class="g" stroke-width=".62" cx="429.6" cy="417.5" r="1.25"/><circle class="b" stroke-width=".62" cx="429.6" cy="425.3" r="1.25"/>
<text class="l lg" x="436.9" y="419.5" textLength="27.9" lengthAdjust="spacingAndGlyphs">25% MVC</text><text class="l lg" x="436.9" y="427.3" textLength="27.9" lengthAdjust="spacingAndGlyphs">50% MVC</text>
<g class="g ser"><polyline class="ln" points="345.9,461.7 351.63,462 357.36,462.3 363.09,462.4 368.82,462.4 374.55,462.4 380.28,463.1 386.01,465.3 391.74,467.2 397.47,468.8 403.2,470.1 408.93,470.9 414.66,471.5 420.39,471.2 426.12,471.5 431.85,471.2 437.58,470.1 443.31,466.7 449.04,463.8 454.77,463 460.5,462.7 466.23,462.3"/><circle class="mk" cx="345.9" cy="461.7" r="0.9"/><circle class="mk" cx="351.63" cy="462" r="0.9"/><circle class="mk" cx="357.36" cy="462.3" r="0.9"/><circle class="mk" cx="363.09" cy="462.4" r="0.9"/><circle class="mk" cx="368.82" cy="462.4" r="0.9"/><circle class="mk" cx="374.55" cy="462.4" r="0.9"/><circle class="mk" cx="380.28" cy="463.1" r="0.9"/><circle class="mk" cx="386.01" cy="465.3" r="0.9"/><circle class="mk" cx="391.74" cy="467.2" r="0.9"/><circle class="mk" cx="397.47" cy="468.8" r="0.9"/><circle class="mk" cx="403.2" cy="470.1" r="0.9"/><circle class="mk" cx="408.93" cy="470.9" r="0.9"/><circle class="mk" cx="414.66" cy="471.5" r="0.9"/><circle class="mk" cx="420.39" cy="471.2" r="0.9"/><circle class="mk" cx="426.12" cy="471.5" r="0.9"/><circle class="mk" cx="431.85" cy="471.2" r="0.9"/><circle class="mk" cx="437.58" cy="470.1" r="0.9"/><circle class="mk" cx="443.31" cy="466.7" r="0.9"/><circle class="mk" cx="449.04" cy="463.8" r="0.9"/><circle class="mk" cx="454.77" cy="463" r="0.9"/><circle class="mk" cx="460.5" cy="462.7" r="0.9"/><circle class="mk" cx="466.23" cy="462.3" r="0.9"/></g>
<g class="b ser"><polyline class="ln" points="374.55,462.3 380.28,462.7 386.01,463.4 391.74,465.5 397.47,467.7 403.2,469.8 408.93,470.8 414.66,471.5 420.39,471.2 426.12,469.4 431.85,467.2 437.58,466.3 443.31,466.3 449.04,465.3 454.77,464.1 460.5,462.7 466.23,462.3"/><circle class="mk" cx="374.55" cy="462.3" r="0.9"/><circle class="mk" cx="380.28" cy="462.7" r="0.9"/><circle class="mk" cx="386.01" cy="463.4" r="0.9"/><circle class="mk" cx="391.74" cy="465.5" r="0.9"/><circle class="mk" cx="397.47" cy="467.7" r="0.9"/><circle class="mk" cx="403.2" cy="469.8" r="0.9"/><circle class="mk" cx="408.93" cy="470.8" r="0.9"/><circle class="mk" cx="414.66" cy="471.5" r="0.9"/><circle class="mk" cx="420.39" cy="471.2" r="0.9"/><circle class="mk" cx="426.12" cy="469.4" r="0.9"/><circle class="mk" cx="431.85" cy="467.2" r="0.9"/><circle class="mk" cx="437.58" cy="466.3" r="0.9"/><circle class="mk" cx="443.31" cy="466.3" r="0.9"/><circle class="mk" cx="449.04" cy="465.3" r="0.9"/><circle class="mk" cx="454.77" cy="464.1" r="0.9"/><circle class="mk" cx="460.5" cy="462.7" r="0.9"/><circle class="mk" cx="466.23" cy="462.3" r="0.9"/></g>
<g class="g ser top"><polyline class="ln" points="345.9,461.7 351.63,462 357.36,462.3 363.09,462.4 368.82,462.4 374.55,462.4 380.28,463.1 386.01,465.3 391.74,467.2 397.47,468.8 403.2,470.1 408.93,470.9 414.66,471.5 420.39,471.2 426.12,471.5 431.85,471.2 437.58,470.1 443.31,466.7 449.04,463.8 454.77,463 460.5,462.7 466.23,462.3"/><circle class="mk" cx="345.9" cy="461.7" r="0.9"/><circle class="mk" cx="351.63" cy="462" r="0.9"/><circle class="mk" cx="357.36" cy="462.3" r="0.9"/><circle class="mk" cx="363.09" cy="462.4" r="0.9"/><circle class="mk" cx="368.82" cy="462.4" r="0.9"/><circle class="mk" cx="374.55" cy="462.4" r="0.9"/><circle class="mk" cx="380.28" cy="463.1" r="0.9"/><circle class="mk" cx="386.01" cy="465.3" r="0.9"/><circle class="mk" cx="391.74" cy="467.2" r="0.9"/><circle class="mk" cx="397.47" cy="468.8" r="0.9"/><circle class="mk" cx="403.2" cy="470.1" r="0.9"/><circle class="mk" cx="408.93" cy="470.9" r="0.9"/><circle class="mk" cx="414.66" cy="471.5" r="0.9"/><circle class="mk" cx="420.39" cy="471.2" r="0.9"/><circle class="mk" cx="426.12" cy="471.5" r="0.9"/><circle class="mk" cx="431.85" cy="471.2" r="0.9"/><circle class="mk" cx="437.58" cy="470.1" r="0.9"/><circle class="mk" cx="443.31" cy="466.7" r="0.9"/><circle class="mk" cx="449.04" cy="463.8" r="0.9"/><circle class="mk" cx="454.77" cy="463" r="0.9"/><circle class="mk" cx="460.5" cy="462.7" r="0.9"/><circle class="mk" cx="466.23" cy="462.3" r="0.9"/></g>
</g>
<text x="244.4" y="543.6" text-anchor="middle" style="font-size:12.5px;fill:#000">(<tspan font-weight="bold">a</tspan>)</text>
</svg>
</body></html>
